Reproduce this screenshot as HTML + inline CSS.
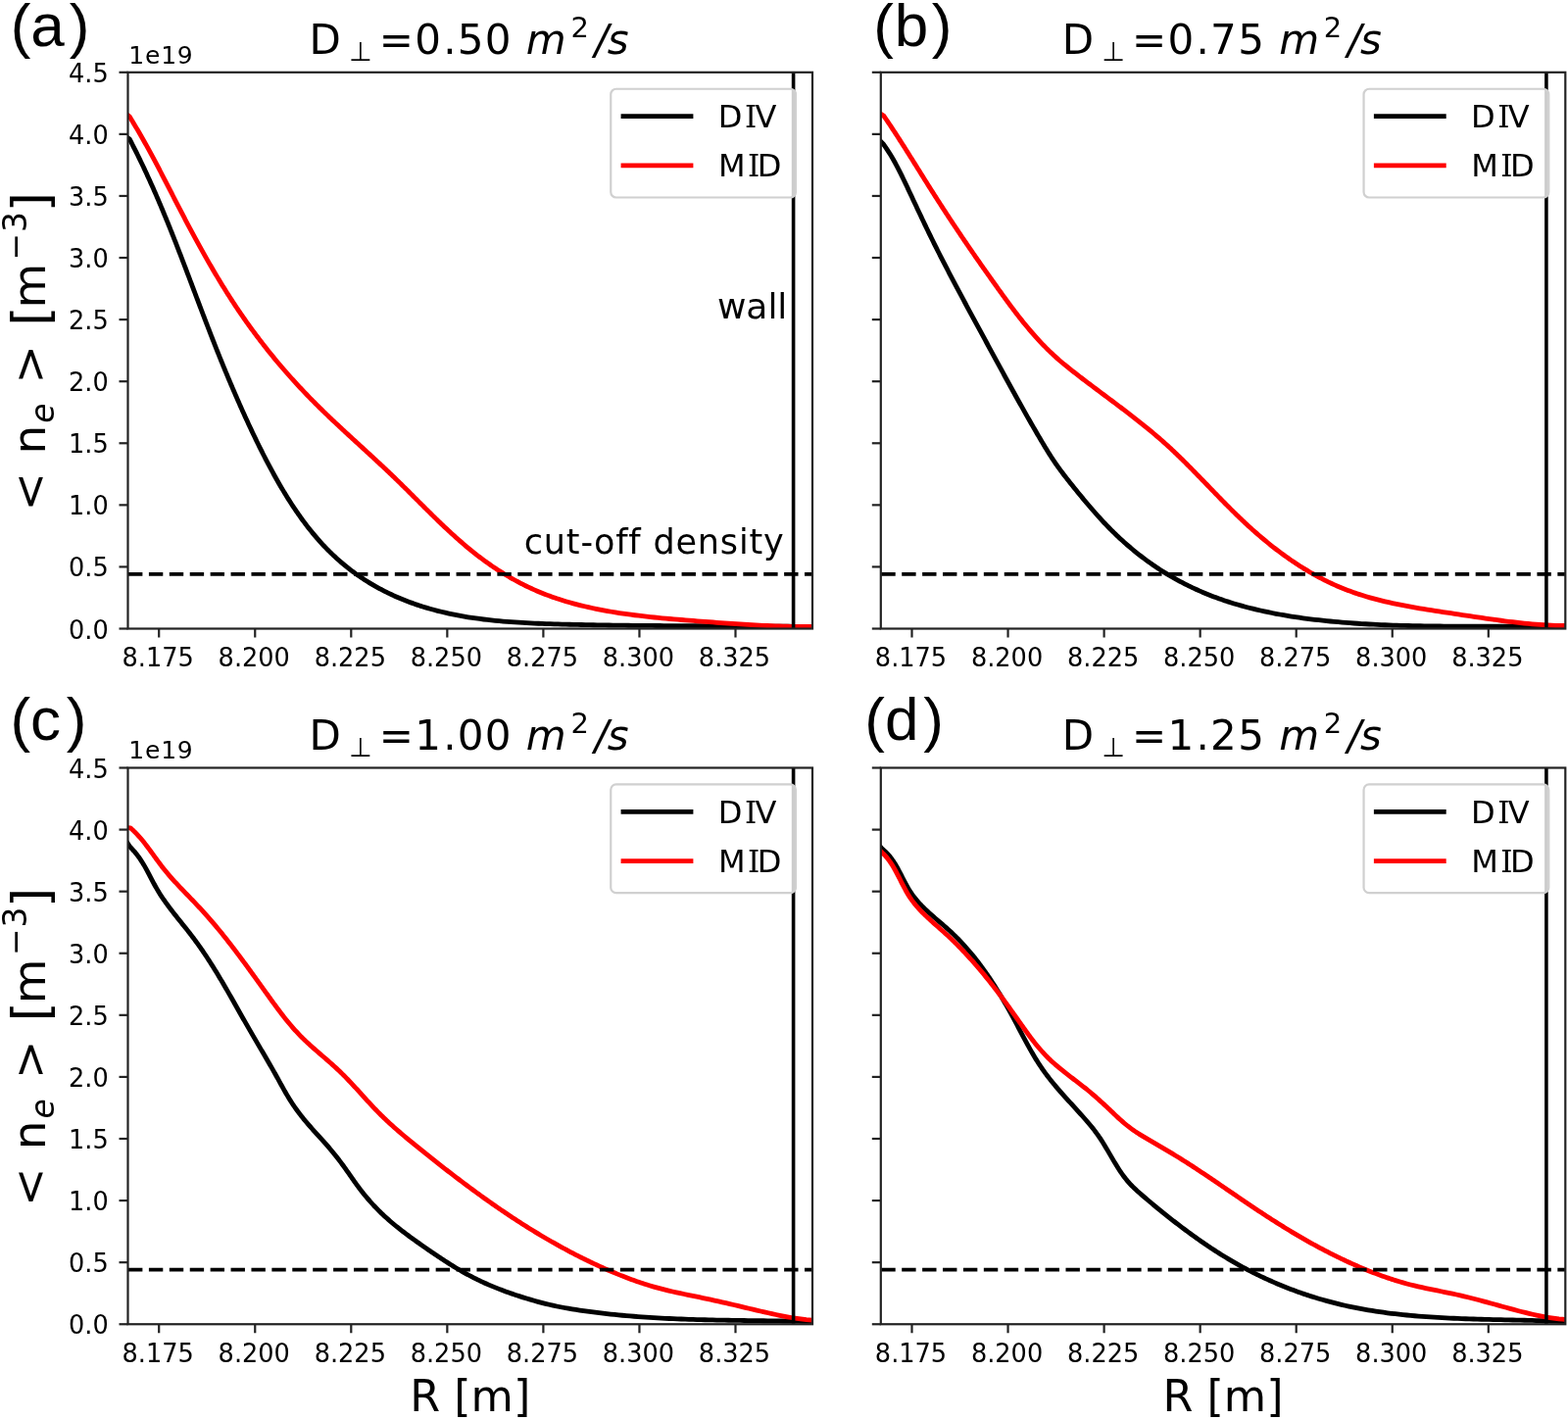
<!DOCTYPE html>
<html><head><meta charset="utf-8"><title>Density profiles</title>
<style>
html,body{margin:0;padding:0;background:#fff;}
svg{display:block;}
text{fill:#000;}
</style></head><body>
<svg width="1600" height="1449" viewBox="0 0 1600 1449">
<rect x="0" y="0" width="1600" height="1449" fill="#fff"/>
<g>
<clipPath id="clipa"><rect x="130.5" y="73.8" width="698.5" height="567.7"/></clipPath>
<g clip-path="url(#clipa)">
<path d="M130.5 140.66 L132.06 141.66 L132.99 143.44 L133.91 145.22 L134.83 147 L135.74 148.79 L136.65 150.57 L137.56 152.36 L138.46 154.15 L139.35 155.94 L140.24 157.73 L141.12 159.53 L142 161.33 L142.88 163.12 L143.74 164.92 L144.61 166.73 L145.47 168.53 L146.33 170.33 L147.18 172.14 L148.03 173.95 L148.87 175.76 L149.71 177.57 L150.54 179.38 L151.37 181.19 L152.2 183.01 L153.02 184.82 L153.84 186.64 L154.66 188.46 L155.47 190.28 L156.28 192.1 L157.08 193.92 L157.88 195.75 L158.68 197.57 L159.47 199.4 L160.26 201.23 L161.05 203.06 L161.83 204.89 L162.61 206.72 L163.39 208.55 L164.17 210.38 L164.94 212.22 L165.71 214.05 L166.47 215.89 L167.23 217.73 L167.99 219.56 L168.75 221.4 L169.51 223.24 L170.26 225.09 L171.01 226.93 L171.76 228.77 L172.5 230.61 L173.24 232.46 L173.99 234.3 L174.72 236.15 L175.46 238 L176.19 239.85 L176.93 241.69 L177.66 243.54 L178.39 245.39 L179.11 247.24 L179.84 249.1 L180.56 250.95 L181.28 252.8 L182 254.65 L182.72 256.51 L183.44 258.36 L184.16 260.22 L184.87 262.07 L185.59 263.93 L186.3 265.78 L187.01 267.64 L187.72 269.5 L188.43 271.36 L189.14 273.21 L189.85 275.07 L190.55 276.93 L191.26 278.79 L191.97 280.65 L192.67 282.51 L193.38 284.37 L194.08 286.23 L194.79 288.09 L195.49 289.95 L196.19 291.81 L196.9 293.67 L197.6 295.53 L198.3 297.39 L199.01 299.25 L199.71 301.12 L200.41 302.98 L201.12 304.84 L201.82 306.7 L202.53 308.56 L203.23 310.42 L203.94 312.28 L204.64 314.14 L205.35 316.01 L206.06 317.87 L206.76 319.73 L207.47 321.59 L208.18 323.45 L208.89 325.31 L209.6 327.17 L210.32 329.03 L211.03 330.89 L211.74 332.75 L212.46 334.61 L213.18 336.46 L213.9 338.32 L214.62 340.18 L215.34 342.04 L216.06 343.9 L216.79 345.75 L217.51 347.61 L218.24 349.46 L218.97 351.32 L219.7 353.17 L220.44 355.03 L221.17 356.88 L221.91 358.74 L222.65 360.59 L223.39 362.44 L224.14 364.29 L224.88 366.14 L225.63 367.99 L226.38 369.84 L227.14 371.69 L227.89 373.54 L228.65 375.39 L229.41 377.23 L230.17 379.08 L230.94 380.92 L231.71 382.77 L232.48 384.61 L233.25 386.45 L234.02 388.29 L234.8 390.13 L235.58 391.97 L236.36 393.81 L237.15 395.65 L237.93 397.48 L238.72 399.32 L239.51 401.15 L240.31 402.98 L241.1 404.82 L241.9 406.65 L242.71 408.48 L243.51 410.3 L244.32 412.13 L245.13 413.96 L245.94 415.78 L246.75 417.61 L247.57 419.43 L248.39 421.25 L249.21 423.07 L250.04 424.89 L250.87 426.7 L251.7 428.52 L252.53 430.33 L253.37 432.14 L254.21 433.95 L255.05 435.76 L255.9 437.57 L256.75 439.38 L257.61 441.18 L258.46 442.99 L259.33 444.79 L260.19 446.59 L261.06 448.39 L261.93 450.18 L262.81 451.98 L263.69 453.77 L264.58 455.56 L265.47 457.35 L266.36 459.14 L267.26 460.93 L268.16 462.71 L269.07 464.49 L269.98 466.27 L270.9 468.05 L271.82 469.83 L272.75 471.6 L273.68 473.38 L274.62 475.15 L275.56 476.92 L276.51 478.68 L277.46 480.45 L278.42 482.21 L279.39 483.97 L280.36 485.72 L281.33 487.48 L282.32 489.23 L283.31 490.97 L284.3 492.71 L285.3 494.45 L286.31 496.19 L287.33 497.92 L288.35 499.64 L289.38 501.36 L290.41 503.08 L291.46 504.79 L292.51 506.49 L293.57 508.19 L294.63 509.89 L295.71 511.58 L296.79 513.26 L297.88 514.94 L298.98 516.61 L300.08 518.27 L301.2 519.93 L302.32 521.58 L303.45 523.22 L304.59 524.86 L305.74 526.49 L306.9 528.11 L308.06 529.73 L309.24 531.33 L310.43 532.93 L311.62 534.52 L312.83 536.1 L314.04 537.67 L315.26 539.23 L316.5 540.79 L317.74 542.33 L319 543.87 L320.26 545.4 L321.54 546.91 L322.82 548.42 L324.12 549.91 L325.43 551.4 L326.74 552.87 L328.07 554.34 L329.41 555.79 L330.77 557.24 L332.13 558.67 L333.5 560.09 L334.89 561.49 L336.29 562.89 L337.7 564.27 L339.12 565.65 L340.56 567.01 L342 568.35 L343.46 569.69 L344.93 571.01 L346.42 572.32 L347.92 573.61 L349.43 574.9 L350.95 576.16 L352.48 577.42 L354.03 578.66 L355.58 579.89 L357.15 581.1 L358.73 582.31 L360.32 583.49 L361.92 584.67 L363.53 585.83 L365.16 586.97 L366.79 588.1 L368.43 589.22 L370.09 590.32 L371.75 591.41 L373.42 592.48 L375.11 593.54 L376.8 594.59 L378.5 595.61 L380.21 596.63 L381.93 597.63 L383.66 598.61 L385.4 599.58 L387.15 600.54 L388.9 601.48 L390.66 602.4 L392.43 603.31 L394.21 604.2 L396 605.08 L397.79 605.95 L399.59 606.79 L401.4 607.62 L403.21 608.44 L405.03 609.24 L406.86 610.03 L408.7 610.8 L410.54 611.56 L412.38 612.3 L414.24 613.03 L416.09 613.75 L417.96 614.45 L419.83 615.13 L421.7 615.81 L423.58 616.46 L425.47 617.11 L427.36 617.74 L429.25 618.36 L431.15 618.96 L434.96 620.13 L438.79 621.25 L442.63 622.31 L446.49 623.32 L450.35 624.29 L454.23 625.21 L458.12 626.07 L462.01 626.9 L465.92 627.68 L469.84 628.41 L473.76 629.1 L477.69 629.76 L481.63 630.37 L485.58 630.95 L489.54 631.49 L493.5 632 L497.46 632.47 L501.44 632.91 L505.42 633.32 L509.4 633.71 L513.39 634.06 L517.38 634.39 L521.38 634.69 L525.38 634.97 L529.38 635.23 L533.38 635.47 L537.39 635.69 L541.4 635.89 L545.41 636.08 L549.42 636.25 L553.43 636.4 L557.45 636.55 L561.46 636.68 L565.47 636.81 L569.48 636.93 L573.49 637.04 L577.49 637.14 L581.5 637.24 L585.5 637.34 L589.5 637.43 L593.5 637.52 L597.5 637.6 L601.5 637.68 L605.5 637.75 L609.49 637.82 L613.48 637.89 L617.48 637.95 L621.47 638.01 L625.46 638.07 L629.45 638.12 L633.43 638.17 L637.42 638.22 L641.41 638.26 L645.39 638.3 L649.38 638.34 L653.36 638.37 L657.35 638.41 L661.33 638.44 L665.32 638.47 L669.3 638.5 L673.28 638.52 L677.27 638.54 L681.25 638.57 L685.23 638.59 L689.21 638.61 L693.2 638.63 L697.18 638.64 L701.16 638.66 L705.15 638.68 L709.13 638.69 L713.12 638.71 L717.1 638.72 L721.09 638.74 L725.07 638.75 L729.06 638.76 L733.05 638.78 L737.04 638.79 L741.03 638.81 L745.02 638.83 L749.01 638.84 L753 638.86 L757 638.88 L760.99 638.9 L764.99 638.92 L768.99 638.94 L772.99 638.97 L776.99 638.99 L780.99 639.02 L785 639.05 L789 639.08 L793.01 639.12 L797.02 639.15 L801.03 639.19 L805.05 639.24 L809.07 639.28 L813.08 639.33 L817.1 639.38 L821.13 639.43 L825.15 639.49 L829 639.29" fill="none" stroke="#000" stroke-width="4.8" stroke-linejoin="round" stroke-linecap="square"/>
<path d="M130.5 117.61 L132.1 118.89 L133.16 120.59 L134.21 122.3 L135.26 124.01 L136.3 125.72 L137.33 127.44 L138.36 129.15 L139.38 130.87 L140.39 132.59 L141.4 134.32 L142.4 136.05 L143.4 137.78 L144.39 139.51 L145.38 141.24 L146.37 142.97 L147.34 144.71 L148.32 146.45 L149.29 148.19 L150.25 149.93 L151.21 151.68 L152.17 153.43 L153.12 155.17 L154.07 156.92 L155.02 158.67 L155.96 160.43 L156.9 162.18 L157.84 163.94 L158.77 165.69 L159.7 167.45 L160.63 169.21 L161.56 170.97 L162.48 172.73 L163.4 174.49 L164.32 176.25 L165.24 178.02 L166.16 179.78 L167.07 181.55 L167.99 183.32 L168.9 185.08 L169.81 186.85 L170.72 188.62 L171.63 190.39 L172.54 192.16 L173.45 193.93 L174.36 195.7 L175.27 197.47 L176.18 199.24 L177.09 201.01 L178 202.78 L178.91 204.55 L179.83 206.32 L180.74 208.09 L181.65 209.86 L182.57 211.63 L183.49 213.4 L184.41 215.17 L185.33 216.94 L186.25 218.71 L187.17 220.48 L188.1 222.24 L189.03 224.01 L189.96 225.78 L190.89 227.55 L191.82 229.31 L192.76 231.08 L193.7 232.84 L194.64 234.6 L195.58 236.36 L196.53 238.13 L197.48 239.89 L198.43 241.64 L199.38 243.4 L200.34 245.16 L201.3 246.91 L202.26 248.67 L203.22 250.42 L204.19 252.17 L205.16 253.92 L206.13 255.67 L207.11 257.41 L208.09 259.16 L209.07 260.9 L210.06 262.64 L211.05 264.38 L212.04 266.12 L213.03 267.85 L214.03 269.58 L215.03 271.31 L216.04 273.04 L217.05 274.77 L218.06 276.49 L219.08 278.21 L220.1 279.93 L221.12 281.65 L222.15 283.37 L223.18 285.08 L224.22 286.79 L225.26 288.49 L226.3 290.2 L227.35 291.9 L228.4 293.6 L229.45 295.29 L230.51 296.99 L231.58 298.67 L232.65 300.36 L233.72 302.04 L234.8 303.72 L235.88 305.4 L236.97 307.08 L238.06 308.75 L239.15 310.41 L240.26 312.08 L241.36 313.74 L242.47 315.39 L243.59 317.05 L244.71 318.69 L245.83 320.34 L246.96 321.98 L248.1 323.62 L249.24 325.25 L250.38 326.88 L251.53 328.51 L252.69 330.13 L253.85 331.75 L255.01 333.37 L256.18 334.98 L257.36 336.59 L258.54 338.19 L259.72 339.79 L260.91 341.39 L262.1 342.98 L263.3 344.57 L264.51 346.15 L265.71 347.73 L266.93 349.31 L268.15 350.88 L269.37 352.45 L270.6 354.02 L271.83 355.58 L273.07 357.14 L274.31 358.69 L275.56 360.24 L276.81 361.78 L278.07 363.33 L279.33 364.86 L280.59 366.4 L281.86 367.93 L283.14 369.46 L284.42 370.98 L285.7 372.5 L286.99 374.01 L288.29 375.52 L289.59 377.03 L290.89 378.53 L292.2 380.03 L293.51 381.52 L294.83 383.01 L296.15 384.5 L297.48 385.98 L298.81 387.46 L300.14 388.94 L301.48 390.41 L302.83 391.87 L304.18 393.34 L305.53 394.79 L306.89 396.25 L308.25 397.7 L309.62 399.15 L310.99 400.59 L312.37 402.03 L313.75 403.46 L315.13 404.89 L316.52 406.32 L317.92 407.74 L319.31 409.16 L320.72 410.57 L322.12 411.98 L323.53 413.39 L324.95 414.79 L326.37 416.19 L327.79 417.58 L329.22 418.98 L330.65 420.36 L332.08 421.75 L333.52 423.13 L334.95 424.51 L336.4 425.89 L337.84 427.27 L339.29 428.64 L340.74 430.01 L342.19 431.38 L343.65 432.74 L345.1 434.11 L346.56 435.47 L348.02 436.83 L349.48 438.19 L350.95 439.55 L352.41 440.91 L353.88 442.26 L355.35 443.61 L356.82 444.97 L358.29 446.32 L359.76 447.67 L361.23 449.02 L362.7 450.37 L364.18 451.72 L365.65 453.07 L367.12 454.42 L368.6 455.77 L370.07 457.12 L371.54 458.47 L373.01 459.82 L374.49 461.17 L375.96 462.52 L377.43 463.88 L378.9 465.23 L380.37 466.58 L381.84 467.94 L383.3 469.29 L384.77 470.65 L386.23 472.01 L387.69 473.37 L389.15 474.74 L390.61 476.1 L392.07 477.47 L393.52 478.83 L394.97 480.2 L396.42 481.58 L397.87 482.95 L399.32 484.33 L400.76 485.71 L402.2 487.1 L403.63 488.48 L405.06 489.87 L406.49 491.26 L407.92 492.66 L409.34 494.05 L410.77 495.45 L412.19 496.85 L413.6 498.26 L415.02 499.66 L416.44 501.07 L417.85 502.47 L419.26 503.88 L420.67 505.29 L422.08 506.7 L423.49 508.11 L424.9 509.51 L426.31 510.92 L427.72 512.33 L429.13 513.74 L430.54 515.15 L431.95 516.55 L433.36 517.96 L434.78 519.36 L436.19 520.76 L437.6 522.16 L439.02 523.56 L440.44 524.96 L441.86 526.35 L443.28 527.74 L444.7 529.13 L446.13 530.52 L447.56 531.9 L448.99 533.28 L450.43 534.66 L451.87 536.03 L453.31 537.4 L454.76 538.76 L456.21 540.12 L457.66 541.47 L459.12 542.82 L460.58 544.17 L462.05 545.51 L463.52 546.84 L465 548.17 L466.48 549.49 L467.96 550.81 L469.46 552.12 L470.96 553.42 L472.46 554.72 L473.97 556.01 L475.49 557.3 L477.01 558.57 L478.54 559.84 L480.08 561.1 L481.62 562.36 L483.18 563.6 L484.73 564.84 L486.3 566.07 L487.88 567.29 L489.46 568.5 L491.05 569.7 L492.65 570.89 L494.26 572.08 L495.87 573.25 L497.49 574.41 L499.13 575.57 L500.77 576.71 L502.41 577.85 L504.07 578.97 L505.73 580.08 L507.4 581.18 L509.08 582.27 L510.76 583.35 L512.46 584.41 L514.16 585.46 L515.86 586.51 L517.58 587.53 L519.3 588.55 L521.03 589.56 L522.76 590.55 L524.5 591.52 L526.25 592.49 L528 593.44 L529.76 594.38 L531.53 595.3 L533.3 596.21 L535.08 597.1 L536.87 597.98 L538.66 598.85 L540.45 599.69 L542.26 600.53 L544.07 601.35 L545.88 602.15 L547.7 602.94 L549.52 603.71 L551.35 604.47 L553.19 605.22 L555.03 605.95 L556.88 606.67 L558.73 607.37 L560.58 608.06 L562.44 608.73 L564.31 609.39 L566.18 610.04 L568.05 610.68 L569.93 611.3 L573.7 612.51 L577.48 613.67 L581.29 614.78 L585.1 615.84 L588.93 616.86 L592.78 617.84 L596.64 618.77 L600.51 619.67 L604.39 620.52 L608.29 621.34 L612.19 622.12 L616.11 622.87 L620.03 623.58 L623.96 624.26 L627.9 624.91 L631.85 625.53 L635.81 626.13 L639.77 626.69 L643.74 627.23 L647.71 627.75 L651.69 628.24 L655.68 628.71 L659.66 629.16 L663.65 629.59 L667.65 630 L671.64 630.4 L675.64 630.78 L679.64 631.15 L683.64 631.51 L687.63 631.85 L691.63 632.19 L695.63 632.51 L699.62 632.83 L703.61 633.15 L707.6 633.46 L711.59 633.77 L715.57 634.07 L719.55 634.37 L723.52 634.68 L727.49 634.98 L731.46 635.27 L735.42 635.56 L739.39 635.85 L743.35 636.13 L747.31 636.4 L751.27 636.67 L755.24 636.93 L759.2 637.18 L763.16 637.43 L767.13 637.66 L771.09 637.88 L775.06 638.09 L779.04 638.29 L783.01 638.48 L786.99 638.65 L790.98 638.81 L794.97 638.96 L798.96 639.09 L802.96 639.2 L806.97 639.3 L810.98 639.38 L815.01 639.44 L819.03 639.48 L823.07 639.51 L829 639.49" fill="none" stroke="#f00" stroke-width="4.8" stroke-linejoin="round" stroke-linecap="square"/>
<line x1="131" y1="585.9" x2="829" y2="585.9" stroke="#000" stroke-width="3.7" stroke-dasharray="14.4 6.51"/>
<line x1="809.6" y1="73.8" x2="809.6" y2="641.5" stroke="#000" stroke-width="3.6"/>
</g>
<rect x="623.25" y="90.75" width="188.75" height="110.75" rx="5.5" ry="5.5" fill="#fff" fill-opacity="0.8" stroke="#d0d0d0" stroke-width="2.2"/>
<line x1="636" y1="118.7" x2="705" y2="118.7" stroke="#000" stroke-width="4.8" stroke-linecap="square"/>
<line x1="636" y1="168.9" x2="705" y2="168.9" stroke="#f00" stroke-width="4.8" stroke-linecap="square"/>
<text x="732.66" y="129.8" font-family="'DejaVu Sans', sans-serif" font-size="32">D</text>
<text x="759.89" y="129.8" font-family="'DejaVu Serif', serif" font-size="31">I</text>
<text x="770.55" y="129.8" font-family="'DejaVu Sans', sans-serif" font-size="32">V</text>
<text x="732.96" y="180" font-family="'DejaVu Sans', sans-serif" font-size="32">M</text>
<text x="762.89" y="180" font-family="'DejaVu Serif', serif" font-size="31">I</text>
<text x="772.66" y="180" font-family="'DejaVu Sans', sans-serif" font-size="32">D</text>
<rect x="130.5" y="73.8" width="698.5" height="567.7" fill="none" stroke="#222" stroke-width="2.2"/>
<line x1="121.5" y1="641.5" x2="130.5" y2="641.5" stroke="#222" stroke-width="2.2"/>
<text transform="translate(0,641.4) scale(1,1.07) translate(0,-641.4)" x="110.7" y="650.9" font-family="'DejaVu Sans', sans-serif" font-size="25.6" text-anchor="end">0.0</text>
<line x1="121.5" y1="578.42" x2="130.5" y2="578.42" stroke="#222" stroke-width="2.2"/>
<text transform="translate(0,578.32) scale(1,1.07) translate(0,-578.32)" x="110.7" y="587.82" font-family="'DejaVu Sans', sans-serif" font-size="25.6" text-anchor="end">0.5</text>
<line x1="121.5" y1="515.34" x2="130.5" y2="515.34" stroke="#222" stroke-width="2.2"/>
<text transform="translate(0,515.24) scale(1,1.07) translate(0,-515.24)" x="110.7" y="524.74" font-family="'DejaVu Sans', sans-serif" font-size="25.6" text-anchor="end">1.0</text>
<line x1="121.5" y1="452.27" x2="130.5" y2="452.27" stroke="#222" stroke-width="2.2"/>
<text transform="translate(0,452.17) scale(1,1.07) translate(0,-452.17)" x="110.7" y="461.67" font-family="'DejaVu Sans', sans-serif" font-size="25.6" text-anchor="end">1.5</text>
<line x1="121.5" y1="389.19" x2="130.5" y2="389.19" stroke="#222" stroke-width="2.2"/>
<text transform="translate(0,389.09) scale(1,1.07) translate(0,-389.09)" x="110.7" y="398.59" font-family="'DejaVu Sans', sans-serif" font-size="25.6" text-anchor="end">2.0</text>
<line x1="121.5" y1="326.11" x2="130.5" y2="326.11" stroke="#222" stroke-width="2.2"/>
<text transform="translate(0,326.01) scale(1,1.07) translate(0,-326.01)" x="110.7" y="335.51" font-family="'DejaVu Sans', sans-serif" font-size="25.6" text-anchor="end">2.5</text>
<line x1="121.5" y1="263.03" x2="130.5" y2="263.03" stroke="#222" stroke-width="2.2"/>
<text transform="translate(0,262.93) scale(1,1.07) translate(0,-262.93)" x="110.7" y="272.43" font-family="'DejaVu Sans', sans-serif" font-size="25.6" text-anchor="end">3.0</text>
<line x1="121.5" y1="199.96" x2="130.5" y2="199.96" stroke="#222" stroke-width="2.2"/>
<text transform="translate(0,199.86) scale(1,1.07) translate(0,-199.86)" x="110.7" y="209.36" font-family="'DejaVu Sans', sans-serif" font-size="25.6" text-anchor="end">3.5</text>
<line x1="121.5" y1="136.88" x2="130.5" y2="136.88" stroke="#222" stroke-width="2.2"/>
<text transform="translate(0,136.78) scale(1,1.07) translate(0,-136.78)" x="110.7" y="146.28" font-family="'DejaVu Sans', sans-serif" font-size="25.6" text-anchor="end">4.0</text>
<line x1="121.5" y1="73.8" x2="130.5" y2="73.8" stroke="#222" stroke-width="2.2"/>
<text transform="translate(0,73.7) scale(1,1.07) translate(0,-73.7)" x="110.7" y="83.2" font-family="'DejaVu Sans', sans-serif" font-size="25.6" text-anchor="end">4.5</text>
<line x1="162.2" y1="641.5" x2="162.2" y2="650.5" stroke="#222" stroke-width="2.2"/>
<text transform="translate(0,669.7) scale(1,1.07) translate(0,-669.7)" x="161.2" y="679.2" font-family="'DejaVu Sans', sans-serif" font-size="25.6" text-anchor="middle">8.175</text>
<line x1="260.25" y1="641.5" x2="260.25" y2="650.5" stroke="#222" stroke-width="2.2"/>
<text transform="translate(0,669.7) scale(1,1.07) translate(0,-669.7)" x="259.25" y="679.2" font-family="'DejaVu Sans', sans-serif" font-size="25.6" text-anchor="middle">8.200</text>
<line x1="358.3" y1="641.5" x2="358.3" y2="650.5" stroke="#222" stroke-width="2.2"/>
<text transform="translate(0,669.7) scale(1,1.07) translate(0,-669.7)" x="357.3" y="679.2" font-family="'DejaVu Sans', sans-serif" font-size="25.6" text-anchor="middle">8.225</text>
<line x1="456.35" y1="641.5" x2="456.35" y2="650.5" stroke="#222" stroke-width="2.2"/>
<text transform="translate(0,669.7) scale(1,1.07) translate(0,-669.7)" x="455.35" y="679.2" font-family="'DejaVu Sans', sans-serif" font-size="25.6" text-anchor="middle">8.250</text>
<line x1="554.4" y1="641.5" x2="554.4" y2="650.5" stroke="#222" stroke-width="2.2"/>
<text transform="translate(0,669.7) scale(1,1.07) translate(0,-669.7)" x="553.4" y="679.2" font-family="'DejaVu Sans', sans-serif" font-size="25.6" text-anchor="middle">8.275</text>
<line x1="652.45" y1="641.5" x2="652.45" y2="650.5" stroke="#222" stroke-width="2.2"/>
<text transform="translate(0,669.7) scale(1,1.07) translate(0,-669.7)" x="651.45" y="679.2" font-family="'DejaVu Sans', sans-serif" font-size="25.6" text-anchor="middle">8.300</text>
<line x1="750.5" y1="641.5" x2="750.5" y2="650.5" stroke="#222" stroke-width="2.2"/>
<text transform="translate(0,669.7) scale(1,1.07) translate(0,-669.7)" x="749.5" y="679.2" font-family="'DejaVu Sans', sans-serif" font-size="25.6" text-anchor="middle">8.325</text>
<text x="315.48" y="55.4" font-family="'DejaVu Sans', sans-serif" font-size="42">D</text>
<text x="356.29" y="62.4" font-family="'DejaVu Sans', sans-serif" font-size="27">⊥</text>
<text x="386.75" y="55.4" font-family="'DejaVu Sans', sans-serif" font-size="42">=</text>
<text x="423.23 452.21 466.66 494.83" y="55.4" font-family="'DejaVu Sans', sans-serif" font-size="42">0.50</text>
<text x="536.87" y="55.4" font-family="'DejaVu Sans', sans-serif" font-size="42" font-style="italic">m</text>
<text x="582.38" y="37.9" font-family="'DejaVu Sans', sans-serif" font-size="29">2</text>
<text x="606.68 619.63" y="55.4" font-family="'DejaVu Sans', sans-serif" font-size="42" font-style="italic">/s</text>
<text x="131.25 147.96 164.14 180.85" y="65" font-family="'DejaVu Sans', sans-serif" font-size="25">1e19</text>
<g transform="rotate(-90)"><text x="-521.38" y="46" font-family="'DejaVu Sans', sans-serif" font-size="47">&lt;</text><text x="-463.47" y="46.3" font-family="'DejaVu Sans', sans-serif" font-size="47">n</text><text x="-431.71" y="54.9" font-family="'DejaVu Sans', sans-serif" font-size="33" font-style="italic">e</text><text x="-391.38" y="46" font-family="'DejaVu Sans', sans-serif" font-size="47">&gt;</text><text x="-332.87" y="49.2" font-family="'DejaVu Sans', sans-serif" font-size="52">[</text><text x="-314.57" y="46.3" font-family="'DejaVu Sans', sans-serif" font-size="47">m</text><text x="-265.4" y="27" font-family="'DejaVu Sans', sans-serif" font-size="33">−</text><text x="-236.91" y="27" font-family="'DejaVu Sans', sans-serif" font-size="33">3</text><text x="-216.25" y="49.2" font-family="'DejaVu Sans', sans-serif" font-size="52">]</text></g>
</g>
<g>
<clipPath id="clipb"><rect x="898.8" y="73.8" width="698.5" height="567.7"/></clipPath>
<g clip-path="url(#clipb)">
<path d="M898.8 144.3 L901.3 147 L902.53 148.71 L903.73 150.42 L904.9 152.14 L906.04 153.87 L907.15 155.59 L908.24 157.33 L909.3 159.06 L910.34 160.8 L911.35 162.54 L912.34 164.29 L913.32 166.04 L914.28 167.8 L915.22 169.55 L916.14 171.31 L917.05 173.08 L917.95 174.84 L918.84 176.61 L919.71 178.38 L920.58 180.16 L921.44 181.93 L922.3 183.71 L923.15 185.49 L923.99 187.28 L924.84 189.06 L925.68 190.85 L926.53 192.64 L927.37 194.43 L928.21 196.22 L929.06 198.01 L929.9 199.81 L930.74 201.6 L931.59 203.4 L932.43 205.2 L933.28 207 L934.12 208.8 L934.97 210.6 L935.82 212.4 L936.66 214.2 L937.51 216 L938.36 217.8 L939.21 219.6 L940.07 221.4 L940.92 223.2 L941.78 225 L942.63 226.8 L943.49 228.6 L944.36 230.4 L945.22 232.2 L946.09 234 L946.96 235.79 L947.83 237.59 L948.7 239.38 L949.58 241.17 L950.46 242.96 L951.34 244.75 L952.22 246.54 L953.11 248.32 L954 250.11 L954.89 251.89 L955.78 253.67 L956.68 255.46 L957.58 257.24 L958.48 259.01 L959.39 260.79 L960.29 262.57 L961.2 264.35 L962.11 266.12 L963.02 267.89 L963.94 269.67 L964.85 271.44 L965.77 273.21 L966.69 274.98 L967.61 276.75 L968.53 278.52 L969.46 280.29 L970.39 282.05 L971.32 283.82 L972.25 285.58 L973.18 287.35 L974.11 289.11 L975.04 290.88 L975.98 292.64 L976.92 294.4 L977.86 296.17 L978.8 297.93 L979.74 299.69 L980.68 301.45 L981.62 303.21 L982.57 304.97 L983.51 306.73 L984.46 308.49 L985.41 310.25 L986.35 312.01 L987.3 313.77 L988.25 315.53 L989.2 317.29 L990.15 319.05 L991.11 320.81 L992.06 322.57 L993.01 324.33 L993.96 326.09 L994.92 327.85 L995.87 329.61 L996.83 331.37 L997.78 333.13 L998.74 334.89 L999.69 336.65 L1000.65 338.41 L1001.6 340.18 L1002.56 341.94 L1003.51 343.7 L1004.47 345.46 L1005.42 347.23 L1006.38 348.99 L1007.34 350.75 L1008.29 352.52 L1009.25 354.28 L1010.2 356.05 L1011.16 357.81 L1012.12 359.57 L1013.07 361.34 L1014.03 363.1 L1014.99 364.86 L1015.94 366.63 L1016.9 368.39 L1017.86 370.15 L1018.82 371.92 L1019.78 373.68 L1020.74 375.44 L1021.7 377.2 L1022.66 378.96 L1023.62 380.72 L1024.58 382.48 L1025.54 384.24 L1026.5 385.99 L1027.46 387.75 L1028.43 389.5 L1029.39 391.26 L1030.35 393.01 L1031.32 394.76 L1032.29 396.52 L1033.25 398.27 L1034.22 400.01 L1035.19 401.76 L1036.15 403.51 L1037.12 405.25 L1038.09 406.99 L1039.07 408.74 L1040.04 410.48 L1041.01 412.21 L1041.98 413.95 L1042.96 415.69 L1043.93 417.42 L1044.91 419.15 L1045.89 420.88 L1046.86 422.61 L1047.84 424.33 L1048.82 426.06 L1049.8 427.78 L1050.79 429.5 L1051.77 431.22 L1052.76 432.93 L1053.74 434.64 L1054.73 436.36 L1055.72 438.06 L1056.71 439.77 L1057.7 441.47 L1058.69 443.17 L1059.68 444.87 L1060.68 446.57 L1061.67 448.26 L1062.67 449.95 L1063.67 451.64 L1064.67 453.32 L1065.68 455 L1066.7 456.68 L1067.72 458.35 L1068.75 460.03 L1069.8 461.69 L1070.85 463.36 L1071.91 465.02 L1072.98 466.68 L1074.07 468.33 L1075.17 469.99 L1076.28 471.63 L1077.41 473.28 L1078.56 474.92 L1079.72 476.55 L1080.9 478.19 L1082.1 479.82 L1083.3 481.44 L1084.52 483.06 L1085.75 484.68 L1086.99 486.29 L1088.24 487.9 L1089.49 489.5 L1090.75 491.1 L1092.02 492.69 L1093.29 494.28 L1094.56 495.87 L1095.84 497.45 L1097.11 499.03 L1098.39 500.6 L1099.67 502.16 L1100.94 503.72 L1102.22 505.28 L1103.5 506.83 L1104.77 508.38 L1106.05 509.92 L1107.34 511.45 L1108.62 512.98 L1109.91 514.5 L1111.2 516.02 L1112.49 517.53 L1113.79 519.04 L1115.09 520.54 L1116.4 522.03 L1117.71 523.52 L1119.02 525 L1120.34 526.48 L1121.67 527.95 L1123.01 529.41 L1124.35 530.87 L1125.7 532.31 L1127.05 533.76 L1128.42 535.19 L1129.79 536.62 L1131.17 538.04 L1132.56 539.46 L1133.96 540.86 L1135.36 542.26 L1136.78 543.66 L1138.21 545.04 L1139.65 546.42 L1141.1 547.79 L1142.55 549.15 L1144.02 550.5 L1145.49 551.85 L1146.98 553.18 L1148.47 554.51 L1149.98 555.83 L1151.49 557.14 L1153.01 558.44 L1154.54 559.73 L1156.07 561.01 L1157.62 562.28 L1159.18 563.54 L1160.74 564.79 L1162.31 566.03 L1163.89 567.26 L1165.48 568.48 L1167.08 569.69 L1168.68 570.89 L1170.29 572.07 L1171.91 573.25 L1173.54 574.41 L1175.18 575.56 L1176.82 576.7 L1178.47 577.83 L1180.13 578.95 L1181.8 580.05 L1183.47 581.15 L1185.15 582.23 L1186.84 583.29 L1188.53 584.35 L1190.23 585.39 L1191.94 586.42 L1193.66 587.44 L1195.38 588.45 L1197.11 589.44 L1198.84 590.42 L1200.58 591.39 L1202.33 592.35 L1204.09 593.29 L1205.85 594.22 L1207.61 595.14 L1209.39 596.05 L1211.17 596.95 L1212.95 597.83 L1214.74 598.7 L1216.54 599.56 L1218.34 600.4 L1220.15 601.24 L1221.96 602.06 L1223.78 602.87 L1225.6 603.66 L1227.43 604.45 L1229.26 605.22 L1231.1 605.98 L1232.95 606.72 L1234.8 607.46 L1236.65 608.18 L1238.51 608.89 L1240.37 609.59 L1242.24 610.27 L1244.11 610.95 L1245.99 611.61 L1247.87 612.26 L1249.75 612.9 L1251.64 613.53 L1253.54 614.14 L1255.43 614.75 L1259.24 615.93 L1263.06 617.06 L1266.9 618.16 L1270.75 619.21 L1274.61 620.22 L1278.48 621.2 L1282.37 622.13 L1286.27 623.03 L1290.18 623.89 L1294.09 624.72 L1298.02 625.51 L1301.96 626.28 L1305.9 627 L1309.85 627.7 L1313.8 628.37 L1317.77 629.01 L1321.73 629.62 L1325.71 630.2 L1329.68 630.76 L1333.66 631.29 L1337.64 631.79 L1341.62 632.28 L1345.61 632.74 L1349.59 633.18 L1353.58 633.6 L1357.56 634 L1361.55 634.38 L1365.53 634.73 L1369.52 635.08 L1373.51 635.4 L1377.49 635.7 L1381.48 635.99 L1385.47 636.26 L1389.46 636.52 L1393.45 636.76 L1397.44 636.98 L1401.43 637.19 L1405.42 637.38 L1409.41 637.57 L1413.4 637.73 L1417.39 637.89 L1421.38 638.03 L1425.37 638.17 L1429.36 638.29 L1433.35 638.4 L1437.35 638.5 L1441.34 638.59 L1445.33 638.67 L1449.33 638.74 L1453.32 638.81 L1457.32 638.86 L1461.31 638.91 L1465.31 638.96 L1469.3 638.99 L1473.3 639.03 L1477.29 639.05 L1481.29 639.08 L1485.29 639.1 L1489.29 639.11 L1493.28 639.12 L1497.28 639.13 L1501.28 639.14 L1505.28 639.15 L1509.28 639.15 L1513.28 639.16 L1517.28 639.16 L1521.28 639.17 L1525.28 639.18 L1529.28 639.18 L1533.28 639.19 L1537.28 639.21 L1541.28 639.22 L1545.28 639.24 L1549.29 639.27 L1553.29 639.3 L1557.29 639.33 L1561.3 639.37 L1565.3 639.42 L1569.3 639.47 L1573.31 639.53 L1577.31 639.6 L1581.32 639.67 L1585.32 639.76 L1589.33 639.85 L1593.34 639.96 L1597.3 639.69" fill="none" stroke="#000" stroke-width="4.8" stroke-linejoin="round" stroke-linecap="square"/>
<path d="M898.8 116.34 L901.91 118.35 L903.06 120.03 L904.2 121.72 L905.34 123.4 L906.47 125.09 L907.6 126.77 L908.72 128.45 L909.84 130.14 L910.95 131.82 L912.05 133.5 L913.16 135.19 L914.26 136.87 L915.35 138.55 L916.44 140.24 L917.53 141.92 L918.61 143.6 L919.69 145.29 L920.76 146.97 L921.84 148.65 L922.91 150.33 L923.98 152.01 L925.04 153.7 L926.1 155.38 L927.16 157.06 L928.22 158.74 L929.28 160.42 L930.33 162.1 L931.39 163.78 L932.44 165.46 L933.49 167.14 L934.54 168.82 L935.59 170.5 L936.64 172.17 L937.69 173.85 L938.74 175.53 L939.78 177.21 L940.83 178.88 L941.88 180.56 L942.93 182.24 L943.98 183.91 L945.03 185.59 L946.08 187.26 L947.13 188.94 L948.19 190.61 L949.24 192.28 L950.3 193.96 L951.36 195.63 L952.42 197.3 L953.48 198.97 L954.55 200.65 L955.61 202.32 L956.68 203.99 L957.76 205.66 L958.83 207.33 L959.91 208.99 L960.99 210.66 L962.07 212.33 L963.15 214 L964.24 215.66 L965.33 217.33 L966.42 218.99 L967.51 220.66 L968.61 222.32 L969.71 223.99 L970.81 225.65 L971.91 227.31 L973.01 228.97 L974.12 230.63 L975.22 232.29 L976.33 233.95 L977.45 235.61 L978.56 237.27 L979.68 238.93 L980.79 240.58 L981.91 242.24 L983.03 243.89 L984.16 245.55 L985.28 247.2 L986.41 248.85 L987.54 250.51 L988.67 252.16 L989.8 253.81 L990.94 255.46 L992.07 257.11 L993.21 258.75 L994.35 260.4 L995.49 262.05 L996.63 263.69 L997.78 265.34 L998.92 266.98 L1000.07 268.62 L1001.22 270.26 L1002.37 271.91 L1003.52 273.55 L1004.67 275.18 L1005.83 276.82 L1006.98 278.46 L1008.14 280.1 L1009.3 281.73 L1010.46 283.37 L1011.62 285 L1012.78 286.63 L1013.95 288.26 L1015.11 289.89 L1016.28 291.52 L1017.45 293.15 L1018.61 294.78 L1019.78 296.4 L1020.96 298.03 L1022.13 299.65 L1023.3 301.28 L1024.48 302.9 L1025.66 304.51 L1026.84 306.13 L1028.03 307.74 L1029.22 309.35 L1030.41 310.96 L1031.61 312.57 L1032.81 314.17 L1034.01 315.77 L1035.22 317.36 L1036.44 318.95 L1037.65 320.54 L1038.88 322.12 L1040.11 323.7 L1041.35 325.27 L1042.59 326.84 L1043.84 328.4 L1045.1 329.96 L1046.37 331.51 L1047.64 333.05 L1048.92 334.59 L1050.21 336.12 L1051.51 337.65 L1052.81 339.17 L1054.13 340.68 L1055.45 342.19 L1056.78 343.68 L1058.13 345.17 L1059.48 346.66 L1060.84 348.13 L1062.21 349.59 L1063.59 351.04 L1064.98 352.48 L1066.38 353.91 L1067.79 355.33 L1069.2 356.74 L1070.62 358.13 L1072.05 359.5 L1073.49 360.86 L1074.94 362.21 L1076.39 363.54 L1077.86 364.85 L1079.32 366.15 L1080.8 367.44 L1082.28 368.71 L1083.77 369.97 L1085.27 371.22 L1086.77 372.46 L1088.28 373.69 L1089.8 374.92 L1091.32 376.14 L1092.84 377.35 L1094.38 378.56 L1095.92 379.76 L1097.46 380.97 L1099.01 382.17 L1100.56 383.37 L1102.12 384.57 L1103.68 385.77 L1105.25 386.97 L1106.82 388.17 L1108.4 389.36 L1109.98 390.56 L1111.56 391.75 L1113.14 392.95 L1114.73 394.14 L1116.32 395.34 L1117.92 396.53 L1119.52 397.73 L1121.11 398.92 L1122.71 400.12 L1124.32 401.32 L1125.92 402.51 L1127.53 403.71 L1129.13 404.91 L1130.74 406.11 L1132.35 407.31 L1133.96 408.52 L1135.56 409.72 L1137.17 410.93 L1138.78 412.13 L1140.39 413.34 L1142 414.56 L1143.6 415.77 L1145.21 416.98 L1146.81 418.2 L1148.42 419.42 L1150.02 420.65 L1151.62 421.87 L1153.21 423.1 L1154.81 424.34 L1156.4 425.57 L1157.99 426.81 L1159.57 428.05 L1161.16 429.3 L1162.74 430.55 L1164.31 431.8 L1165.89 433.06 L1167.45 434.32 L1169.02 435.58 L1170.58 436.85 L1172.13 438.13 L1173.68 439.41 L1175.23 440.69 L1176.77 441.98 L1178.3 443.27 L1179.83 444.57 L1181.35 445.87 L1182.87 447.18 L1184.38 448.49 L1185.88 449.81 L1187.37 451.14 L1188.86 452.47 L1190.34 453.81 L1191.82 455.15 L1193.29 456.5 L1194.75 457.85 L1196.21 459.21 L1197.66 460.57 L1199.1 461.94 L1200.54 463.31 L1201.97 464.69 L1203.4 466.07 L1204.82 467.45 L1206.24 468.84 L1207.66 470.24 L1209.07 471.63 L1210.47 473.03 L1211.88 474.43 L1213.28 475.84 L1214.67 477.25 L1216.07 478.66 L1217.46 480.07 L1218.85 481.48 L1220.23 482.9 L1221.62 484.32 L1223 485.74 L1224.38 487.16 L1225.76 488.58 L1227.14 490.01 L1228.52 491.43 L1229.89 492.86 L1231.27 494.29 L1232.65 495.71 L1234.02 497.14 L1235.4 498.57 L1236.78 499.99 L1238.15 501.42 L1239.53 502.84 L1240.91 504.27 L1242.29 505.69 L1243.68 507.11 L1245.06 508.53 L1246.45 509.95 L1247.84 511.37 L1249.23 512.79 L1250.63 514.2 L1252.03 515.61 L1253.43 517.02 L1254.83 518.43 L1256.24 519.83 L1257.66 521.24 L1259.07 522.63 L1260.49 524.03 L1261.92 525.42 L1263.35 526.81 L1264.79 528.19 L1266.23 529.57 L1267.68 530.94 L1269.13 532.32 L1270.59 533.68 L1272.06 535.04 L1273.53 536.4 L1275.01 537.75 L1276.49 539.1 L1277.99 540.44 L1279.48 541.77 L1280.99 543.1 L1282.5 544.42 L1284.02 545.74 L1285.55 547.05 L1287.08 548.35 L1288.62 549.65 L1290.16 550.94 L1291.71 552.22 L1293.27 553.49 L1294.83 554.76 L1296.41 556.02 L1297.98 557.27 L1299.57 558.52 L1301.16 559.75 L1302.75 560.98 L1304.36 562.2 L1305.97 563.4 L1307.58 564.6 L1309.2 565.8 L1310.83 566.98 L1312.47 568.15 L1314.11 569.31 L1315.75 570.46 L1317.41 571.61 L1319.07 572.74 L1320.73 573.86 L1322.41 574.97 L1324.08 576.07 L1325.77 577.16 L1327.46 578.24 L1329.15 579.3 L1330.86 580.36 L1332.57 581.4 L1334.28 582.43 L1336 583.45 L1337.73 584.46 L1339.46 585.45 L1341.2 586.43 L1342.95 587.4 L1344.7 588.36 L1346.45 589.3 L1348.22 590.23 L1349.99 591.14 L1351.76 592.05 L1353.54 592.93 L1355.33 593.81 L1357.12 594.67 L1358.92 595.51 L1360.72 596.34 L1362.53 597.15 L1364.35 597.95 L1366.17 598.74 L1368 599.51 L1369.83 600.26 L1371.67 601 L1373.51 601.72 L1375.36 602.43 L1377.22 603.12 L1379.08 603.8 L1380.95 604.46 L1382.82 605.11 L1384.69 605.75 L1386.57 606.37 L1390.35 607.58 L1394.14 608.73 L1397.95 609.84 L1401.78 610.9 L1405.62 611.91 L1409.48 612.88 L1413.35 613.82 L1417.23 614.71 L1421.12 615.58 L1425.03 616.4 L1428.94 617.2 L1432.87 617.97 L1436.8 618.71 L1440.74 619.43 L1444.69 620.12 L1448.64 620.8 L1452.6 621.45 L1456.56 622.09 L1460.52 622.72 L1464.49 623.34 L1468.46 623.95 L1472.43 624.55 L1476.4 625.14 L1480.36 625.74 L1484.33 626.33 L1488.29 626.93 L1492.25 627.52 L1496.2 628.12 L1500.15 628.72 L1504.1 629.31 L1508.05 629.9 L1512 630.48 L1515.95 631.06 L1519.89 631.62 L1523.84 632.18 L1527.78 632.72 L1531.73 633.25 L1535.68 633.76 L1539.63 634.26 L1543.58 634.74 L1547.53 635.2 L1551.49 635.63 L1555.45 636.04 L1559.41 636.43 L1563.37 636.79 L1567.34 637.12 L1571.32 637.42 L1575.3 637.69 L1579.28 637.93 L1583.27 638.13 L1587.27 638.3 L1591.27 638.42 L1597.3 638.46" fill="none" stroke="#f00" stroke-width="4.8" stroke-linejoin="round" stroke-linecap="square"/>
<line x1="899.3" y1="585.9" x2="1597.3" y2="585.9" stroke="#000" stroke-width="3.7" stroke-dasharray="14.4 6.51"/>
<line x1="1577.9" y1="73.8" x2="1577.9" y2="641.5" stroke="#000" stroke-width="3.6"/>
</g>
<rect x="1391.55" y="90.75" width="188.75" height="110.75" rx="5.5" ry="5.5" fill="#fff" fill-opacity="0.8" stroke="#d0d0d0" stroke-width="2.2"/>
<line x1="1404.3" y1="118.7" x2="1473.3" y2="118.7" stroke="#000" stroke-width="4.8" stroke-linecap="square"/>
<line x1="1404.3" y1="168.9" x2="1473.3" y2="168.9" stroke="#f00" stroke-width="4.8" stroke-linecap="square"/>
<text x="1500.96" y="129.8" font-family="'DejaVu Sans', sans-serif" font-size="32">D</text>
<text x="1528.19" y="129.8" font-family="'DejaVu Serif', serif" font-size="31">I</text>
<text x="1538.85" y="129.8" font-family="'DejaVu Sans', sans-serif" font-size="32">V</text>
<text x="1501.26" y="180" font-family="'DejaVu Sans', sans-serif" font-size="32">M</text>
<text x="1531.19" y="180" font-family="'DejaVu Serif', serif" font-size="31">I</text>
<text x="1540.96" y="180" font-family="'DejaVu Sans', sans-serif" font-size="32">D</text>
<rect x="898.8" y="73.8" width="698.5" height="567.7" fill="none" stroke="#222" stroke-width="2.2"/>
<line x1="889.8" y1="641.5" x2="898.8" y2="641.5" stroke="#222" stroke-width="2.2"/>
<line x1="889.8" y1="578.42" x2="898.8" y2="578.42" stroke="#222" stroke-width="2.2"/>
<line x1="889.8" y1="515.34" x2="898.8" y2="515.34" stroke="#222" stroke-width="2.2"/>
<line x1="889.8" y1="452.27" x2="898.8" y2="452.27" stroke="#222" stroke-width="2.2"/>
<line x1="889.8" y1="389.19" x2="898.8" y2="389.19" stroke="#222" stroke-width="2.2"/>
<line x1="889.8" y1="326.11" x2="898.8" y2="326.11" stroke="#222" stroke-width="2.2"/>
<line x1="889.8" y1="263.03" x2="898.8" y2="263.03" stroke="#222" stroke-width="2.2"/>
<line x1="889.8" y1="199.96" x2="898.8" y2="199.96" stroke="#222" stroke-width="2.2"/>
<line x1="889.8" y1="136.88" x2="898.8" y2="136.88" stroke="#222" stroke-width="2.2"/>
<line x1="889.8" y1="73.8" x2="898.8" y2="73.8" stroke="#222" stroke-width="2.2"/>
<line x1="930.5" y1="641.5" x2="930.5" y2="650.5" stroke="#222" stroke-width="2.2"/>
<text transform="translate(0,669.7) scale(1,1.07) translate(0,-669.7)" x="929.5" y="679.2" font-family="'DejaVu Sans', sans-serif" font-size="25.6" text-anchor="middle">8.175</text>
<line x1="1028.55" y1="641.5" x2="1028.55" y2="650.5" stroke="#222" stroke-width="2.2"/>
<text transform="translate(0,669.7) scale(1,1.07) translate(0,-669.7)" x="1027.55" y="679.2" font-family="'DejaVu Sans', sans-serif" font-size="25.6" text-anchor="middle">8.200</text>
<line x1="1126.6" y1="641.5" x2="1126.6" y2="650.5" stroke="#222" stroke-width="2.2"/>
<text transform="translate(0,669.7) scale(1,1.07) translate(0,-669.7)" x="1125.6" y="679.2" font-family="'DejaVu Sans', sans-serif" font-size="25.6" text-anchor="middle">8.225</text>
<line x1="1224.65" y1="641.5" x2="1224.65" y2="650.5" stroke="#222" stroke-width="2.2"/>
<text transform="translate(0,669.7) scale(1,1.07) translate(0,-669.7)" x="1223.65" y="679.2" font-family="'DejaVu Sans', sans-serif" font-size="25.6" text-anchor="middle">8.250</text>
<line x1="1322.7" y1="641.5" x2="1322.7" y2="650.5" stroke="#222" stroke-width="2.2"/>
<text transform="translate(0,669.7) scale(1,1.07) translate(0,-669.7)" x="1321.7" y="679.2" font-family="'DejaVu Sans', sans-serif" font-size="25.6" text-anchor="middle">8.275</text>
<line x1="1420.75" y1="641.5" x2="1420.75" y2="650.5" stroke="#222" stroke-width="2.2"/>
<text transform="translate(0,669.7) scale(1,1.07) translate(0,-669.7)" x="1419.75" y="679.2" font-family="'DejaVu Sans', sans-serif" font-size="25.6" text-anchor="middle">8.300</text>
<line x1="1518.8" y1="641.5" x2="1518.8" y2="650.5" stroke="#222" stroke-width="2.2"/>
<text transform="translate(0,669.7) scale(1,1.07) translate(0,-669.7)" x="1517.8" y="679.2" font-family="'DejaVu Sans', sans-serif" font-size="25.6" text-anchor="middle">8.325</text>
<text x="1083.78" y="55.4" font-family="'DejaVu Sans', sans-serif" font-size="42">D</text>
<text x="1124.59" y="62.4" font-family="'DejaVu Sans', sans-serif" font-size="27">⊥</text>
<text x="1155.05" y="55.4" font-family="'DejaVu Sans', sans-serif" font-size="42">=</text>
<text x="1191.53 1220.51 1234.96 1263.13" y="55.4" font-family="'DejaVu Sans', sans-serif" font-size="42">0.75</text>
<text x="1305.17" y="55.4" font-family="'DejaVu Sans', sans-serif" font-size="42" font-style="italic">m</text>
<text x="1350.68" y="37.9" font-family="'DejaVu Sans', sans-serif" font-size="29">2</text>
<text x="1374.98 1387.93" y="55.4" font-family="'DejaVu Sans', sans-serif" font-size="42" font-style="italic">/s</text>
</g>
<g>
<clipPath id="clipc"><rect x="130.5" y="783.5" width="698.5" height="567.75"/></clipPath>
<g clip-path="url(#clipc)">
<path d="M130.5 860.88 L132.55 864.02 L134.04 865.51 L135.47 867.03 L136.85 868.57 L138.18 870.14 L139.46 871.73 L140.69 873.35 L141.88 874.98 L143.02 876.63 L144.13 878.3 L145.21 879.99 L146.25 881.68 L147.27 883.39 L148.26 885.11 L149.22 886.84 L150.17 888.58 L151.1 890.32 L152.03 892.06 L152.94 893.81 L153.85 895.55 L154.76 897.3 L155.67 899.04 L156.59 900.77 L157.51 902.5 L158.46 904.23 L159.42 905.94 L160.4 907.64 L161.4 909.33 L162.43 911 L163.48 912.67 L164.56 914.32 L165.65 915.96 L166.76 917.59 L167.89 919.22 L169.03 920.83 L170.19 922.44 L171.37 924.04 L172.56 925.63 L173.76 927.21 L174.97 928.79 L176.19 930.37 L177.42 931.94 L178.65 933.51 L179.89 935.08 L181.14 936.64 L182.39 938.2 L183.64 939.76 L184.9 941.32 L186.15 942.88 L187.4 944.44 L188.65 946 L189.9 947.57 L191.14 949.13 L192.38 950.7 L193.61 952.28 L194.83 953.86 L196.04 955.44 L197.24 957.03 L198.44 958.63 L199.62 960.23 L200.79 961.84 L201.95 963.45 L203.11 965.07 L204.25 966.69 L205.39 968.32 L206.51 969.96 L207.63 971.6 L208.74 973.24 L209.85 974.89 L210.94 976.54 L212.03 978.2 L213.11 979.86 L214.19 981.53 L215.25 983.2 L216.31 984.87 L217.37 986.55 L218.42 988.23 L219.46 989.92 L220.5 991.61 L221.54 993.3 L222.57 995 L223.59 996.7 L224.61 998.4 L225.63 1000.11 L226.64 1001.82 L227.65 1003.53 L228.65 1005.24 L229.65 1006.96 L230.65 1008.68 L231.65 1010.4 L232.64 1012.13 L233.64 1013.85 L234.63 1015.58 L235.62 1017.31 L236.6 1019.05 L237.59 1020.78 L238.58 1022.52 L239.56 1024.25 L240.55 1025.99 L241.53 1027.73 L242.51 1029.47 L243.5 1031.22 L244.48 1032.96 L245.47 1034.7 L246.46 1036.45 L247.45 1038.2 L248.44 1039.94 L249.43 1041.69 L250.42 1043.43 L251.42 1045.18 L252.42 1046.93 L253.42 1048.67 L254.43 1050.42 L255.44 1052.17 L256.45 1053.91 L257.46 1055.66 L258.48 1057.41 L259.5 1059.15 L260.52 1060.89 L261.54 1062.64 L262.56 1064.38 L263.58 1066.12 L264.6 1067.86 L265.62 1069.6 L266.64 1071.34 L267.66 1073.08 L268.68 1074.82 L269.7 1076.55 L270.71 1078.29 L271.72 1080.02 L272.73 1081.75 L273.73 1083.48 L274.73 1085.21 L275.73 1086.94 L276.72 1088.66 L277.71 1090.39 L278.69 1092.11 L279.66 1093.83 L280.63 1095.55 L281.59 1097.26 L282.55 1098.98 L283.5 1100.69 L284.44 1102.4 L285.38 1104.1 L286.32 1105.81 L287.26 1107.51 L288.2 1109.21 L289.14 1110.9 L290.1 1112.59 L291.06 1114.28 L292.03 1115.96 L293.01 1117.64 L294.01 1119.31 L295.02 1120.98 L296.06 1122.64 L297.11 1124.3 L298.19 1125.96 L299.29 1127.6 L300.41 1129.25 L301.56 1130.88 L302.73 1132.51 L303.92 1134.13 L305.14 1135.75 L306.37 1137.36 L307.62 1138.96 L308.89 1140.55 L310.17 1142.14 L311.48 1143.72 L312.79 1145.29 L314.13 1146.85 L315.47 1148.4 L316.82 1149.95 L318.19 1151.49 L319.56 1153.03 L320.93 1154.55 L322.31 1156.08 L323.69 1157.6 L325.07 1159.11 L326.44 1160.63 L327.81 1162.14 L329.17 1163.64 L330.53 1165.15 L331.87 1166.66 L333.2 1168.16 L334.51 1169.67 L335.81 1171.17 L337.09 1172.68 L338.36 1174.19 L339.61 1175.71 L340.84 1177.22 L342.07 1178.74 L343.27 1180.27 L344.47 1181.8 L345.66 1183.33 L346.83 1184.88 L348 1186.42 L349.15 1187.98 L350.3 1189.54 L351.44 1191.12 L352.57 1192.7 L353.7 1194.29 L354.82 1195.88 L355.94 1197.49 L357.06 1199.1 L358.19 1200.71 L359.32 1202.33 L360.45 1203.94 L361.6 1205.56 L362.75 1207.18 L363.92 1208.8 L365.1 1210.41 L366.29 1212.03 L367.51 1213.63 L368.75 1215.24 L370 1216.83 L371.28 1218.42 L372.57 1220 L373.88 1221.57 L375.2 1223.14 L376.54 1224.68 L377.9 1226.22 L379.27 1227.74 L380.65 1229.25 L382.04 1230.74 L383.44 1232.22 L384.86 1233.67 L386.28 1235.11 L387.71 1236.53 L389.15 1237.93 L390.59 1239.31 L392.04 1240.67 L393.5 1242.01 L394.97 1243.34 L396.45 1244.65 L397.93 1245.94 L399.42 1247.22 L400.91 1248.49 L402.42 1249.74 L403.93 1250.98 L405.45 1252.21 L406.97 1253.43 L408.5 1254.64 L410.04 1255.83 L411.59 1257.02 L413.14 1258.2 L414.7 1259.38 L416.27 1260.54 L417.84 1261.7 L419.42 1262.86 L421 1264.01 L422.6 1265.15 L424.19 1266.3 L425.8 1267.44 L427.41 1268.58 L429.03 1269.71 L430.65 1270.85 L432.28 1271.99 L433.92 1273.13 L435.56 1274.27 L437.21 1275.41 L438.86 1276.55 L440.52 1277.69 L442.19 1278.83 L443.86 1279.96 L445.54 1281.09 L447.22 1282.22 L448.91 1283.35 L450.6 1284.47 L452.3 1285.58 L454.01 1286.69 L455.72 1287.79 L457.43 1288.89 L459.15 1289.97 L460.88 1291.05 L462.61 1292.12 L464.35 1293.18 L466.09 1294.23 L467.84 1295.27 L469.59 1296.3 L471.34 1297.32 L473.11 1298.32 L474.87 1299.31 L476.64 1300.29 L478.42 1301.25 L480.2 1302.19 L481.99 1303.12 L483.78 1304.04 L485.57 1304.94 L487.37 1305.82 L489.17 1306.69 L490.98 1307.55 L492.79 1308.39 L494.61 1309.22 L496.43 1310.03 L498.25 1310.83 L500.08 1311.62 L501.91 1312.39 L503.75 1313.15 L505.59 1313.9 L507.44 1314.64 L509.28 1315.36 L511.14 1316.08 L512.99 1316.78 L514.85 1317.47 L516.71 1318.15 L518.58 1318.82 L520.45 1319.49 L522.32 1320.14 L524.2 1320.78 L526.08 1321.41 L527.96 1322.03 L529.85 1322.65 L533.63 1323.86 L537.43 1325.03 L541.24 1326.17 L545.05 1327.28 L548.88 1328.35 L552.72 1329.38 L556.57 1330.36 L560.43 1331.29 L564.3 1332.17 L568.18 1333 L572.07 1333.77 L575.96 1334.51 L579.87 1335.2 L583.78 1335.85 L587.69 1336.48 L591.62 1337.07 L595.55 1337.65 L599.48 1338.2 L603.42 1338.73 L607.37 1339.24 L611.32 1339.73 L615.27 1340.2 L619.23 1340.65 L623.2 1341.07 L627.17 1341.48 L631.14 1341.87 L635.12 1342.25 L639.1 1342.6 L643.09 1342.94 L647.08 1343.26 L651.07 1343.57 L655.06 1343.86 L659.06 1344.13 L663.06 1344.39 L667.06 1344.64 L671.07 1344.87 L675.07 1345.09 L679.08 1345.3 L683.09 1345.49 L687.1 1345.67 L691.11 1345.84 L695.13 1346.01 L699.14 1346.16 L703.15 1346.3 L707.17 1346.43 L711.18 1346.55 L715.19 1346.66 L719.21 1346.77 L723.22 1346.87 L727.23 1346.96 L731.24 1347.04 L735.25 1347.12 L739.26 1347.2 L743.27 1347.27 L747.28 1347.33 L751.28 1347.39 L755.28 1347.45 L759.28 1347.5 L763.28 1347.56 L767.27 1347.61 L771.26 1347.65 L775.25 1347.7 L779.23 1347.75 L783.21 1347.79 L787.19 1347.84 L791.16 1347.89 L795.13 1347.94 L799.09 1347.99 L803.05 1348.04 L807 1348.1 L810.95 1348.16 L814.89 1348.22 L818.83 1348.29 L822.76 1348.36 L829 1348.42" fill="none" stroke="#000" stroke-width="4.8" stroke-linejoin="round" stroke-linecap="square"/>
<path d="M130.5 844.74 L133.13 844.89 L134.64 846.23 L136.12 847.59 L137.55 848.99 L138.95 850.4 L140.31 851.84 L141.65 853.3 L142.96 854.79 L144.24 856.29 L145.5 857.8 L146.73 859.33 L147.95 860.88 L149.16 862.44 L150.35 864.01 L151.53 865.59 L152.7 867.17 L153.87 868.76 L155.03 870.36 L156.19 871.96 L157.35 873.56 L158.51 875.16 L159.67 876.76 L160.84 878.35 L162.02 879.94 L163.2 881.53 L164.4 883.1 L165.61 884.67 L166.83 886.23 L168.07 887.77 L169.32 889.31 L170.59 890.83 L171.87 892.34 L173.16 893.84 L174.47 895.33 L175.79 896.81 L177.11 898.29 L178.45 899.76 L179.8 901.22 L181.15 902.68 L182.51 904.13 L183.88 905.57 L185.25 907.02 L186.63 908.46 L188.01 909.89 L189.39 911.33 L190.77 912.76 L192.16 914.2 L193.55 915.63 L194.93 917.07 L196.32 918.5 L197.7 919.94 L199.08 921.38 L200.45 922.83 L201.82 924.28 L203.19 925.73 L204.55 927.19 L205.9 928.66 L207.25 930.13 L208.58 931.61 L209.91 933.09 L211.24 934.58 L212.56 936.08 L213.87 937.58 L215.17 939.08 L216.47 940.59 L217.77 942.11 L219.05 943.63 L220.34 945.16 L221.61 946.69 L222.88 948.23 L224.15 949.77 L225.41 951.31 L226.66 952.86 L227.91 954.42 L229.16 955.97 L230.4 957.54 L231.63 959.1 L232.87 960.67 L234.09 962.24 L235.32 963.82 L236.54 965.4 L237.75 966.98 L238.96 968.56 L240.17 970.15 L241.38 971.74 L242.58 973.34 L243.77 974.93 L244.97 976.53 L246.16 978.13 L247.35 979.73 L248.54 981.34 L249.72 982.94 L250.91 984.55 L252.09 986.16 L253.26 987.77 L254.44 989.39 L255.61 991 L256.79 992.61 L257.96 994.23 L259.13 995.85 L260.29 997.46 L261.46 999.08 L262.63 1000.7 L263.79 1002.32 L264.96 1003.94 L266.12 1005.56 L267.28 1007.18 L268.45 1008.8 L269.61 1010.42 L270.77 1012.03 L271.94 1013.65 L273.1 1015.27 L274.26 1016.88 L275.43 1018.5 L276.59 1020.11 L277.76 1021.72 L278.93 1023.33 L280.11 1024.94 L281.28 1026.54 L282.47 1028.14 L283.65 1029.73 L284.85 1031.32 L286.04 1032.9 L287.25 1034.48 L288.46 1036.05 L289.68 1037.61 L290.91 1039.17 L292.15 1040.71 L293.4 1042.25 L294.66 1043.78 L295.93 1045.3 L297.21 1046.81 L298.51 1048.31 L299.81 1049.8 L301.13 1051.28 L302.47 1052.74 L303.82 1054.2 L305.18 1055.64 L306.56 1057.07 L307.96 1058.48 L309.37 1059.88 L310.8 1061.26 L312.24 1062.64 L313.7 1064 L315.17 1065.35 L316.64 1066.69 L318.13 1068.03 L319.63 1069.35 L321.13 1070.67 L322.64 1071.98 L324.15 1073.29 L325.66 1074.6 L327.17 1075.9 L328.68 1077.21 L330.2 1078.51 L331.7 1079.81 L333.21 1081.12 L334.71 1082.42 L336.2 1083.73 L337.69 1085.05 L339.17 1086.37 L340.65 1087.7 L342.12 1089.04 L343.57 1090.38 L345.02 1091.74 L346.46 1093.1 L347.89 1094.48 L349.31 1095.87 L350.71 1097.27 L352.11 1098.68 L353.5 1100.1 L354.88 1101.53 L356.26 1102.97 L357.63 1104.42 L358.99 1105.87 L360.34 1107.32 L361.7 1108.79 L363.04 1110.25 L364.39 1111.72 L365.73 1113.2 L367.07 1114.67 L368.42 1116.15 L369.76 1117.62 L371.1 1119.1 L372.44 1120.58 L373.78 1122.05 L375.13 1123.52 L376.48 1124.99 L377.83 1126.45 L379.19 1127.91 L380.55 1129.36 L381.92 1130.81 L383.3 1132.25 L384.68 1133.69 L386.07 1135.11 L387.48 1136.52 L388.89 1137.93 L390.31 1139.32 L391.73 1140.71 L393.17 1142.08 L394.62 1143.45 L396.07 1144.81 L397.54 1146.16 L399.01 1147.5 L400.49 1148.83 L401.97 1150.16 L403.46 1151.48 L404.96 1152.79 L406.46 1154.1 L407.97 1155.4 L409.49 1156.7 L411.01 1157.99 L412.53 1159.27 L414.06 1160.55 L415.59 1161.83 L417.13 1163.1 L418.67 1164.37 L420.21 1165.63 L421.76 1166.9 L423.31 1168.16 L424.86 1169.42 L426.41 1170.67 L427.96 1171.93 L429.51 1173.18 L431.07 1174.44 L432.63 1175.69 L434.18 1176.94 L435.74 1178.19 L437.31 1179.43 L438.87 1180.68 L440.43 1181.92 L442 1183.16 L443.56 1184.4 L445.13 1185.64 L446.7 1186.88 L448.27 1188.12 L449.84 1189.35 L451.42 1190.58 L452.99 1191.81 L454.57 1193.04 L456.15 1194.26 L457.73 1195.48 L459.31 1196.71 L460.9 1197.92 L462.48 1199.14 L464.07 1200.36 L465.66 1201.57 L467.25 1202.78 L468.84 1203.98 L470.43 1205.19 L472.03 1206.39 L473.63 1207.59 L475.23 1208.79 L476.83 1209.98 L478.43 1211.17 L480.04 1212.36 L481.65 1213.55 L483.26 1214.73 L484.87 1215.91 L486.48 1217.09 L488.1 1218.26 L489.71 1219.43 L491.33 1220.6 L492.96 1221.76 L494.58 1222.93 L496.21 1224.08 L497.83 1225.24 L499.46 1226.39 L501.1 1227.54 L502.73 1228.68 L504.37 1229.82 L506.01 1230.96 L507.65 1232.1 L509.29 1233.23 L510.94 1234.36 L512.59 1235.48 L514.24 1236.6 L515.89 1237.71 L517.55 1238.83 L519.21 1239.93 L520.87 1241.04 L522.53 1242.14 L524.2 1243.23 L525.86 1244.33 L527.53 1245.42 L529.21 1246.5 L530.88 1247.58 L532.56 1248.65 L534.24 1249.72 L535.93 1250.79 L537.61 1251.85 L539.3 1252.91 L541 1253.97 L542.69 1255.01 L544.39 1256.06 L546.09 1257.1 L547.79 1258.13 L549.5 1259.16 L551.21 1260.19 L552.92 1261.21 L554.63 1262.22 L556.35 1263.24 L558.07 1264.24 L559.79 1265.24 L561.52 1266.24 L563.25 1267.23 L564.98 1268.21 L566.72 1269.19 L568.45 1270.17 L570.19 1271.14 L571.94 1272.1 L573.69 1273.06 L575.44 1274.02 L577.19 1274.96 L578.95 1275.91 L580.71 1276.84 L582.47 1277.78 L584.24 1278.7 L586.01 1279.62 L587.78 1280.54 L589.56 1281.44 L591.34 1282.35 L593.12 1283.24 L594.91 1284.14 L596.7 1285.02 L598.49 1285.9 L600.29 1286.77 L602.09 1287.64 L603.89 1288.5 L605.7 1289.35 L607.51 1290.2 L609.33 1291.04 L611.15 1291.88 L612.97 1292.71 L614.79 1293.53 L616.62 1294.35 L618.45 1295.15 L620.29 1295.96 L622.13 1296.75 L623.97 1297.54 L625.82 1298.32 L627.67 1299.09 L629.52 1299.85 L631.38 1300.61 L633.24 1301.36 L635.1 1302.09 L636.96 1302.82 L638.83 1303.54 L640.7 1304.25 L642.58 1304.95 L644.45 1305.65 L646.33 1306.33 L648.22 1307 L650.1 1307.66 L651.99 1308.31 L653.88 1308.94 L655.77 1309.57 L657.67 1310.19 L659.57 1310.79 L663.37 1311.96 L667.19 1313.08 L671.01 1314.15 L674.84 1315.17 L678.68 1316.15 L682.52 1317.08 L686.38 1317.98 L690.24 1318.84 L694.11 1319.69 L697.98 1320.51 L701.86 1321.32 L705.74 1322.12 L709.63 1322.92 L713.53 1323.72 L717.42 1324.53 L721.33 1325.36 L725.23 1326.2 L729.14 1327.06 L733.05 1327.93 L736.97 1328.81 L740.88 1329.71 L744.8 1330.62 L748.71 1331.53 L752.63 1332.45 L756.55 1333.37 L760.47 1334.29 L764.39 1335.22 L768.3 1336.14 L772.22 1337.06 L776.13 1337.97 L780.05 1338.87 L783.96 1339.77 L787.86 1340.64 L791.76 1341.48 L795.66 1342.3 L799.56 1343.08 L803.45 1343.81 L807.34 1344.5 L811.22 1345.14 L815.09 1345.71 L818.96 1346.22 L822.82 1346.65 L829 1347.1" fill="none" stroke="#f00" stroke-width="4.8" stroke-linejoin="round" stroke-linecap="square"/>
<line x1="131" y1="1295.6" x2="829" y2="1295.6" stroke="#000" stroke-width="3.7" stroke-dasharray="14.4 6.51"/>
<line x1="809.6" y1="783.5" x2="809.6" y2="1351.25" stroke="#000" stroke-width="3.6"/>
</g>
<rect x="623.25" y="800.45" width="188.75" height="110.75" rx="5.5" ry="5.5" fill="#fff" fill-opacity="0.8" stroke="#d0d0d0" stroke-width="2.2"/>
<line x1="636" y1="828.4" x2="705" y2="828.4" stroke="#000" stroke-width="4.8" stroke-linecap="square"/>
<line x1="636" y1="878.6" x2="705" y2="878.6" stroke="#f00" stroke-width="4.8" stroke-linecap="square"/>
<text x="732.66" y="839.5" font-family="'DejaVu Sans', sans-serif" font-size="32">D</text>
<text x="759.89" y="839.5" font-family="'DejaVu Serif', serif" font-size="31">I</text>
<text x="770.55" y="839.5" font-family="'DejaVu Sans', sans-serif" font-size="32">V</text>
<text x="732.96" y="889.7" font-family="'DejaVu Sans', sans-serif" font-size="32">M</text>
<text x="762.89" y="889.7" font-family="'DejaVu Serif', serif" font-size="31">I</text>
<text x="772.66" y="889.7" font-family="'DejaVu Sans', sans-serif" font-size="32">D</text>
<rect x="130.5" y="783.5" width="698.5" height="567.75" fill="none" stroke="#222" stroke-width="2.2"/>
<line x1="121.5" y1="1351.25" x2="130.5" y2="1351.25" stroke="#222" stroke-width="2.2"/>
<text transform="translate(0,1351.15) scale(1,1.07) translate(0,-1351.15)" x="110.7" y="1360.65" font-family="'DejaVu Sans', sans-serif" font-size="25.6" text-anchor="end">0.0</text>
<line x1="121.5" y1="1288.17" x2="130.5" y2="1288.17" stroke="#222" stroke-width="2.2"/>
<text transform="translate(0,1288.07) scale(1,1.07) translate(0,-1288.07)" x="110.7" y="1297.57" font-family="'DejaVu Sans', sans-serif" font-size="25.6" text-anchor="end">0.5</text>
<line x1="121.5" y1="1225.08" x2="130.5" y2="1225.08" stroke="#222" stroke-width="2.2"/>
<text transform="translate(0,1224.98) scale(1,1.07) translate(0,-1224.98)" x="110.7" y="1234.48" font-family="'DejaVu Sans', sans-serif" font-size="25.6" text-anchor="end">1.0</text>
<line x1="121.5" y1="1162" x2="130.5" y2="1162" stroke="#222" stroke-width="2.2"/>
<text transform="translate(0,1161.9) scale(1,1.07) translate(0,-1161.9)" x="110.7" y="1171.4" font-family="'DejaVu Sans', sans-serif" font-size="25.6" text-anchor="end">1.5</text>
<line x1="121.5" y1="1098.92" x2="130.5" y2="1098.92" stroke="#222" stroke-width="2.2"/>
<text transform="translate(0,1098.82) scale(1,1.07) translate(0,-1098.82)" x="110.7" y="1108.32" font-family="'DejaVu Sans', sans-serif" font-size="25.6" text-anchor="end">2.0</text>
<line x1="121.5" y1="1035.83" x2="130.5" y2="1035.83" stroke="#222" stroke-width="2.2"/>
<text transform="translate(0,1035.73) scale(1,1.07) translate(0,-1035.73)" x="110.7" y="1045.23" font-family="'DejaVu Sans', sans-serif" font-size="25.6" text-anchor="end">2.5</text>
<line x1="121.5" y1="972.75" x2="130.5" y2="972.75" stroke="#222" stroke-width="2.2"/>
<text transform="translate(0,972.65) scale(1,1.07) translate(0,-972.65)" x="110.7" y="982.15" font-family="'DejaVu Sans', sans-serif" font-size="25.6" text-anchor="end">3.0</text>
<line x1="121.5" y1="909.67" x2="130.5" y2="909.67" stroke="#222" stroke-width="2.2"/>
<text transform="translate(0,909.57) scale(1,1.07) translate(0,-909.57)" x="110.7" y="919.07" font-family="'DejaVu Sans', sans-serif" font-size="25.6" text-anchor="end">3.5</text>
<line x1="121.5" y1="846.58" x2="130.5" y2="846.58" stroke="#222" stroke-width="2.2"/>
<text transform="translate(0,846.48) scale(1,1.07) translate(0,-846.48)" x="110.7" y="855.98" font-family="'DejaVu Sans', sans-serif" font-size="25.6" text-anchor="end">4.0</text>
<line x1="121.5" y1="783.5" x2="130.5" y2="783.5" stroke="#222" stroke-width="2.2"/>
<text transform="translate(0,783.4) scale(1,1.07) translate(0,-783.4)" x="110.7" y="792.9" font-family="'DejaVu Sans', sans-serif" font-size="25.6" text-anchor="end">4.5</text>
<line x1="162.2" y1="1351.25" x2="162.2" y2="1360.25" stroke="#222" stroke-width="2.2"/>
<text transform="translate(0,1379.45) scale(1,1.07) translate(0,-1379.45)" x="161.2" y="1388.95" font-family="'DejaVu Sans', sans-serif" font-size="25.6" text-anchor="middle">8.175</text>
<line x1="260.25" y1="1351.25" x2="260.25" y2="1360.25" stroke="#222" stroke-width="2.2"/>
<text transform="translate(0,1379.45) scale(1,1.07) translate(0,-1379.45)" x="259.25" y="1388.95" font-family="'DejaVu Sans', sans-serif" font-size="25.6" text-anchor="middle">8.200</text>
<line x1="358.3" y1="1351.25" x2="358.3" y2="1360.25" stroke="#222" stroke-width="2.2"/>
<text transform="translate(0,1379.45) scale(1,1.07) translate(0,-1379.45)" x="357.3" y="1388.95" font-family="'DejaVu Sans', sans-serif" font-size="25.6" text-anchor="middle">8.225</text>
<line x1="456.35" y1="1351.25" x2="456.35" y2="1360.25" stroke="#222" stroke-width="2.2"/>
<text transform="translate(0,1379.45) scale(1,1.07) translate(0,-1379.45)" x="455.35" y="1388.95" font-family="'DejaVu Sans', sans-serif" font-size="25.6" text-anchor="middle">8.250</text>
<line x1="554.4" y1="1351.25" x2="554.4" y2="1360.25" stroke="#222" stroke-width="2.2"/>
<text transform="translate(0,1379.45) scale(1,1.07) translate(0,-1379.45)" x="553.4" y="1388.95" font-family="'DejaVu Sans', sans-serif" font-size="25.6" text-anchor="middle">8.275</text>
<line x1="652.45" y1="1351.25" x2="652.45" y2="1360.25" stroke="#222" stroke-width="2.2"/>
<text transform="translate(0,1379.45) scale(1,1.07) translate(0,-1379.45)" x="651.45" y="1388.95" font-family="'DejaVu Sans', sans-serif" font-size="25.6" text-anchor="middle">8.300</text>
<line x1="750.5" y1="1351.25" x2="750.5" y2="1360.25" stroke="#222" stroke-width="2.2"/>
<text transform="translate(0,1379.45) scale(1,1.07) translate(0,-1379.45)" x="749.5" y="1388.95" font-family="'DejaVu Sans', sans-serif" font-size="25.6" text-anchor="middle">8.325</text>
<text x="315.48" y="765.1" font-family="'DejaVu Sans', sans-serif" font-size="42">D</text>
<text x="356.29" y="772.1" font-family="'DejaVu Sans', sans-serif" font-size="27">⊥</text>
<text x="386.75" y="765.1" font-family="'DejaVu Sans', sans-serif" font-size="42">=</text>
<text x="423.23 452.21 466.66 494.83" y="765.1" font-family="'DejaVu Sans', sans-serif" font-size="42">1.00</text>
<text x="536.87" y="765.1" font-family="'DejaVu Sans', sans-serif" font-size="42" font-style="italic">m</text>
<text x="582.38" y="747.6" font-family="'DejaVu Sans', sans-serif" font-size="29">2</text>
<text x="606.68 619.63" y="765.1" font-family="'DejaVu Sans', sans-serif" font-size="42" font-style="italic">/s</text>
<text x="131.25 147.96 164.14 180.85" y="774.4" font-family="'DejaVu Sans', sans-serif" font-size="25">1e19</text>
<g transform="rotate(-90)"><text x="-1231.08" y="46" font-family="'DejaVu Sans', sans-serif" font-size="47">&lt;</text><text x="-1173.17" y="46.3" font-family="'DejaVu Sans', sans-serif" font-size="47">n</text><text x="-1141.41" y="54.9" font-family="'DejaVu Sans', sans-serif" font-size="33" font-style="italic">e</text><text x="-1101.08" y="46" font-family="'DejaVu Sans', sans-serif" font-size="47">&gt;</text><text x="-1042.57" y="49.2" font-family="'DejaVu Sans', sans-serif" font-size="52">[</text><text x="-1024.27" y="46.3" font-family="'DejaVu Sans', sans-serif" font-size="47">m</text><text x="-975.1" y="27" font-family="'DejaVu Sans', sans-serif" font-size="33">−</text><text x="-946.61" y="27" font-family="'DejaVu Sans', sans-serif" font-size="33">3</text><text x="-925.95" y="49.2" font-family="'DejaVu Sans', sans-serif" font-size="52">]</text></g>
<text x="418.13 449.05 463.2 480.56 523.91" y="1439.6" font-family="'DejaVu Sans', sans-serif" font-size="44.5">R [m]</text>
</g>
<g>
<clipPath id="clipd"><rect x="898.8" y="783.5" width="698.5" height="567.75"/></clipPath>
<g clip-path="url(#clipd)">
<path d="M898.8 864.54 L900.15 866.18 L901.71 867.44 L903.19 868.76 L904.61 870.14 L905.97 871.57 L907.27 873.06 L908.52 874.59 L909.71 876.16 L910.86 877.77 L911.97 879.42 L913.04 881.09 L914.07 882.8 L915.08 884.53 L916.06 886.28 L917.03 888.05 L917.97 889.84 L918.91 891.63 L919.84 893.43 L920.76 895.23 L921.68 897.03 L922.61 898.83 L923.55 900.61 L924.51 902.39 L925.48 904.15 L926.47 905.89 L927.49 907.61 L928.54 909.3 L929.62 910.96 L930.74 912.59 L931.9 914.19 L933.1 915.75 L934.33 917.29 L935.59 918.8 L936.88 920.28 L938.2 921.74 L939.54 923.18 L940.91 924.6 L942.3 925.99 L943.71 927.37 L945.14 928.74 L946.59 930.09 L948.05 931.43 L949.53 932.75 L951.01 934.07 L952.51 935.38 L954.01 936.69 L955.52 937.99 L957.03 939.28 L958.54 940.58 L960.06 941.88 L961.57 943.18 L963.07 944.48 L964.57 945.8 L966.07 947.11 L967.55 948.44 L969.02 949.78 L970.48 951.13 L971.93 952.49 L973.36 953.87 L974.78 955.25 L976.18 956.65 L977.58 958.06 L978.96 959.48 L980.32 960.91 L981.68 962.36 L983.02 963.81 L984.36 965.28 L985.68 966.76 L986.98 968.24 L988.28 969.74 L989.57 971.25 L990.84 972.76 L992.1 974.29 L993.36 975.83 L994.6 977.37 L995.83 978.92 L997.05 980.49 L998.26 982.06 L999.46 983.64 L1000.65 985.23 L1001.83 986.83 L1003 988.43 L1004.16 990.04 L1005.31 991.67 L1006.45 993.29 L1007.59 994.93 L1008.71 996.57 L1009.83 998.22 L1010.94 999.88 L1012.03 1001.54 L1013.12 1003.21 L1014.21 1004.89 L1015.28 1006.57 L1016.35 1008.26 L1017.41 1009.95 L1018.46 1011.65 L1019.5 1013.35 L1020.54 1015.06 L1021.57 1016.78 L1022.59 1018.49 L1023.61 1020.22 L1024.61 1021.95 L1025.62 1023.68 L1026.61 1025.41 L1027.6 1027.15 L1028.59 1028.9 L1029.57 1030.65 L1030.54 1032.4 L1031.51 1034.15 L1032.47 1035.91 L1033.43 1037.67 L1034.38 1039.43 L1035.32 1041.19 L1036.27 1042.96 L1037.21 1044.73 L1038.14 1046.5 L1039.08 1048.27 L1040.01 1050.04 L1040.94 1051.81 L1041.88 1053.58 L1042.81 1055.34 L1043.74 1057.11 L1044.68 1058.87 L1045.62 1060.64 L1046.57 1062.39 L1047.52 1064.15 L1048.47 1065.9 L1049.44 1067.64 L1050.4 1069.38 L1051.38 1071.12 L1052.37 1072.85 L1053.36 1074.57 L1054.36 1076.28 L1055.38 1077.99 L1056.4 1079.69 L1057.44 1081.38 L1058.49 1083.06 L1059.56 1084.74 L1060.64 1086.4 L1061.73 1088.05 L1062.84 1089.69 L1063.97 1091.33 L1065.12 1092.95 L1066.28 1094.55 L1067.46 1096.15 L1068.65 1097.74 L1069.86 1099.31 L1071.08 1100.88 L1072.32 1102.44 L1073.57 1103.98 L1074.83 1105.52 L1076.1 1107.06 L1077.38 1108.58 L1078.67 1110.1 L1079.97 1111.61 L1081.28 1113.12 L1082.59 1114.62 L1083.91 1116.11 L1085.24 1117.61 L1086.57 1119.09 L1087.91 1120.58 L1089.25 1122.06 L1090.59 1123.53 L1091.93 1125.01 L1093.27 1126.48 L1094.62 1127.96 L1095.96 1129.43 L1097.31 1130.9 L1098.65 1132.37 L1099.98 1133.84 L1101.32 1135.32 L1102.65 1136.79 L1103.97 1138.27 L1105.29 1139.75 L1106.6 1141.23 L1107.91 1142.72 L1109.2 1144.22 L1110.49 1145.72 L1111.76 1147.23 L1113.02 1148.75 L1114.26 1150.29 L1115.49 1151.83 L1116.71 1153.39 L1117.9 1154.97 L1119.08 1156.56 L1120.24 1158.17 L1121.38 1159.8 L1122.5 1161.44 L1123.6 1163.11 L1124.68 1164.79 L1125.75 1166.49 L1126.8 1168.2 L1127.84 1169.91 L1128.88 1171.64 L1129.9 1173.38 L1130.92 1175.12 L1131.94 1176.87 L1132.96 1178.62 L1133.98 1180.37 L1135 1182.13 L1136.03 1183.87 L1137.06 1185.62 L1138.11 1187.35 L1139.16 1189.08 L1140.23 1190.8 L1141.31 1192.5 L1142.41 1194.19 L1143.53 1195.86 L1144.66 1197.51 L1145.82 1199.14 L1147.01 1200.75 L1148.22 1202.32 L1149.45 1203.87 L1150.72 1205.39 L1152.02 1206.87 L1153.34 1208.32 L1154.7 1209.75 L1156.08 1211.14 L1157.49 1212.51 L1158.91 1213.86 L1160.36 1215.19 L1161.82 1216.51 L1163.3 1217.81 L1164.78 1219.1 L1166.28 1220.38 L1167.78 1221.66 L1169.29 1222.93 L1170.8 1224.21 L1172.31 1225.48 L1173.83 1226.75 L1175.35 1228.02 L1176.88 1229.29 L1178.4 1230.55 L1179.94 1231.82 L1181.47 1233.08 L1183.01 1234.33 L1184.55 1235.59 L1186.1 1236.84 L1187.65 1238.09 L1189.2 1239.34 L1190.76 1240.59 L1192.32 1241.83 L1193.89 1243.07 L1195.46 1244.3 L1197.03 1245.53 L1198.6 1246.76 L1200.18 1247.98 L1201.77 1249.2 L1203.36 1250.42 L1204.95 1251.63 L1206.54 1252.84 L1208.14 1254.04 L1209.75 1255.24 L1211.36 1256.43 L1212.97 1257.62 L1214.58 1258.8 L1216.2 1259.98 L1217.83 1261.16 L1219.46 1262.32 L1221.09 1263.49 L1222.72 1264.64 L1224.36 1265.79 L1226.01 1266.94 L1227.66 1268.08 L1229.31 1269.21 L1230.97 1270.34 L1232.63 1271.46 L1234.29 1272.57 L1235.96 1273.68 L1237.64 1274.78 L1239.32 1275.87 L1241 1276.95 L1242.69 1278.03 L1244.38 1279.1 L1246.07 1280.17 L1247.77 1281.22 L1249.48 1282.27 L1251.19 1283.31 L1252.9 1284.34 L1254.62 1285.37 L1256.34 1286.38 L1258.07 1287.39 L1259.8 1288.39 L1261.54 1289.38 L1263.28 1290.36 L1265.02 1291.33 L1266.77 1292.3 L1268.53 1293.25 L1270.29 1294.2 L1272.05 1295.14 L1273.82 1296.06 L1275.59 1296.98 L1277.36 1297.89 L1279.15 1298.8 L1280.93 1299.69 L1282.72 1300.57 L1284.51 1301.45 L1286.31 1302.31 L1288.11 1303.17 L1289.91 1304.01 L1291.72 1304.85 L1293.54 1305.68 L1295.35 1306.5 L1297.17 1307.31 L1299 1308.12 L1300.83 1308.91 L1302.66 1309.69 L1304.49 1310.47 L1306.33 1311.23 L1308.18 1311.99 L1310.02 1312.74 L1311.87 1313.48 L1313.72 1314.21 L1315.58 1314.93 L1317.44 1315.64 L1319.3 1316.34 L1321.17 1317.03 L1323.04 1317.71 L1324.91 1318.39 L1326.79 1319.05 L1328.67 1319.71 L1330.55 1320.36 L1332.43 1320.99 L1334.32 1321.62 L1336.21 1322.24 L1338.11 1322.85 L1341.9 1324.04 L1345.71 1325.19 L1349.53 1326.31 L1353.35 1327.39 L1357.19 1328.43 L1361.04 1329.43 L1364.9 1330.4 L1368.76 1331.33 L1372.64 1332.22 L1376.52 1333.07 L1380.41 1333.89 L1384.31 1334.67 L1388.22 1335.42 L1392.13 1336.13 L1396.05 1336.81 L1399.98 1337.46 L1403.91 1338.08 L1407.86 1338.67 L1411.8 1339.23 L1415.75 1339.76 L1419.71 1340.26 L1423.67 1340.73 L1427.64 1341.18 L1431.61 1341.61 L1435.59 1342.01 L1439.57 1342.39 L1443.55 1342.74 L1447.54 1343.08 L1451.53 1343.39 L1455.52 1343.69 L1459.52 1343.96 L1463.52 1344.22 L1467.52 1344.46 L1471.52 1344.68 L1475.53 1344.89 L1479.53 1345.09 L1483.54 1345.27 L1487.55 1345.44 L1491.56 1345.6 L1495.56 1345.74 L1499.57 1345.88 L1503.58 1346.01 L1507.59 1346.13 L1511.59 1346.24 L1515.6 1346.34 L1519.6 1346.44 L1523.61 1346.54 L1527.61 1346.63 L1531.6 1346.72 L1535.6 1346.81 L1539.59 1346.89 L1543.58 1346.98 L1547.57 1347.07 L1551.55 1347.15 L1555.53 1347.24 L1559.51 1347.34 L1563.48 1347.44 L1567.45 1347.54 L1571.41 1347.65 L1575.36 1347.76 L1579.32 1347.89 L1583.26 1348.02 L1587.2 1348.16 L1591.13 1348.31 L1595.06 1348.47 L1597.3 1348.14" fill="none" stroke="#000" stroke-width="4.8" stroke-linejoin="round" stroke-linecap="square"/>
<path d="M898.8 868.55 L900.29 870.15 L901.7 871.51 L903.05 872.92 L904.35 874.39 L905.6 875.9 L906.8 877.45 L907.96 879.04 L909.07 880.67 L910.15 882.33 L911.19 884.02 L912.21 885.74 L913.2 887.48 L914.17 889.24 L915.12 891.02 L916.05 892.81 L916.98 894.61 L917.9 896.42 L918.81 898.24 L919.72 900.05 L920.64 901.86 L921.57 903.66 L922.5 905.45 L923.46 907.23 L924.43 909 L925.42 910.75 L926.44 912.47 L927.49 914.17 L928.57 915.83 L929.69 917.47 L930.84 919.07 L932.03 920.65 L933.25 922.2 L934.5 923.72 L935.77 925.22 L937.08 926.69 L938.41 928.15 L939.76 929.58 L941.13 930.99 L942.52 932.39 L943.93 933.77 L945.36 935.14 L946.8 936.5 L948.25 937.85 L949.72 939.18 L951.19 940.52 L952.67 941.84 L954.15 943.16 L955.64 944.48 L957.13 945.79 L958.62 947.11 L960.11 948.43 L961.59 949.75 L963.07 951.08 L964.55 952.42 L966.01 953.76 L967.47 955.11 L968.92 956.47 L970.36 957.84 L971.79 959.21 L973.21 960.59 L974.63 961.98 L976.03 963.38 L977.43 964.79 L978.82 966.2 L980.21 967.62 L981.59 969.05 L982.96 970.48 L984.32 971.93 L985.67 973.37 L987.02 974.83 L988.36 976.29 L989.7 977.76 L991.03 979.24 L992.35 980.72 L993.67 982.21 L994.97 983.71 L996.28 985.21 L997.58 986.72 L998.87 988.23 L1000.15 989.75 L1001.43 991.28 L1002.71 992.81 L1003.97 994.35 L1005.24 995.89 L1006.49 997.44 L1007.75 999 L1009 1000.56 L1010.24 1002.12 L1011.48 1003.69 L1012.71 1005.27 L1013.94 1006.85 L1015.16 1008.43 L1016.38 1010.02 L1017.6 1011.62 L1018.81 1013.21 L1020.02 1014.81 L1021.22 1016.42 L1022.42 1018.03 L1023.62 1019.64 L1024.81 1021.26 L1026 1022.88 L1027.18 1024.5 L1028.36 1026.13 L1029.54 1027.76 L1030.72 1029.39 L1031.89 1031.03 L1033.06 1032.67 L1034.23 1034.31 L1035.4 1035.95 L1036.56 1037.6 L1037.72 1039.24 L1038.88 1040.89 L1040.04 1042.54 L1041.2 1044.19 L1042.36 1045.84 L1043.52 1047.48 L1044.69 1049.12 L1045.86 1050.76 L1047.03 1052.39 L1048.21 1054.02 L1049.39 1055.64 L1050.59 1057.25 L1051.79 1058.86 L1053 1060.45 L1054.22 1062.04 L1055.45 1063.61 L1056.69 1065.17 L1057.95 1066.72 L1059.22 1068.25 L1060.5 1069.77 L1061.8 1071.27 L1063.11 1072.76 L1064.44 1074.23 L1065.79 1075.68 L1067.16 1077.11 L1068.54 1078.53 L1069.95 1079.92 L1071.38 1081.29 L1072.82 1082.64 L1074.28 1083.98 L1075.76 1085.3 L1077.25 1086.6 L1078.76 1087.89 L1080.28 1089.17 L1081.81 1090.43 L1083.35 1091.69 L1084.9 1092.93 L1086.45 1094.17 L1088.02 1095.4 L1089.59 1096.62 L1091.16 1097.84 L1092.74 1099.05 L1094.32 1100.27 L1095.9 1101.48 L1097.49 1102.69 L1099.07 1103.9 L1100.65 1105.11 L1102.22 1106.33 L1103.8 1107.55 L1105.36 1108.77 L1106.93 1110 L1108.48 1111.24 L1110.02 1112.49 L1111.56 1113.75 L1113.08 1115.02 L1114.6 1116.3 L1116.1 1117.59 L1117.6 1118.89 L1119.08 1120.2 L1120.57 1121.52 L1122.04 1122.85 L1123.51 1124.19 L1124.98 1125.53 L1126.44 1126.88 L1127.9 1128.24 L1129.35 1129.6 L1130.81 1130.97 L1132.26 1132.35 L1133.72 1133.73 L1135.17 1135.11 L1136.63 1136.5 L1138.09 1137.88 L1139.56 1139.25 L1141.04 1140.62 L1142.52 1141.97 L1144.01 1143.32 L1145.52 1144.64 L1147.03 1145.95 L1148.56 1147.24 L1150.11 1148.5 L1151.67 1149.74 L1153.25 1150.94 L1154.85 1152.12 L1156.46 1153.26 L1158.09 1154.38 L1159.74 1155.48 L1161.39 1156.55 L1163.06 1157.6 L1164.74 1158.64 L1166.43 1159.67 L1168.12 1160.68 L1169.82 1161.68 L1171.52 1162.68 L1173.22 1163.67 L1174.93 1164.66 L1176.63 1165.65 L1178.34 1166.64 L1180.04 1167.63 L1181.74 1168.62 L1183.45 1169.61 L1185.15 1170.6 L1186.85 1171.6 L1188.55 1172.6 L1190.25 1173.6 L1191.95 1174.61 L1193.65 1175.62 L1195.35 1176.64 L1197.04 1177.66 L1198.73 1178.69 L1200.43 1179.72 L1202.12 1180.76 L1203.8 1181.81 L1205.49 1182.86 L1207.17 1183.92 L1208.86 1184.99 L1210.54 1186.06 L1212.22 1187.13 L1213.9 1188.21 L1215.58 1189.29 L1217.25 1190.38 L1218.93 1191.47 L1220.6 1192.57 L1222.27 1193.67 L1223.95 1194.77 L1225.62 1195.88 L1227.29 1196.99 L1228.96 1198.1 L1230.63 1199.22 L1232.29 1200.34 L1233.96 1201.46 L1235.63 1202.58 L1237.3 1203.71 L1238.96 1204.84 L1240.63 1205.97 L1242.29 1207.1 L1243.96 1208.23 L1245.62 1209.37 L1247.28 1210.5 L1248.95 1211.64 L1250.61 1212.78 L1252.28 1213.91 L1253.94 1215.05 L1255.61 1216.19 L1257.27 1217.33 L1258.93 1218.47 L1260.6 1219.6 L1262.26 1220.74 L1263.93 1221.88 L1265.59 1223.01 L1267.26 1224.15 L1268.93 1225.28 L1270.6 1226.41 L1272.26 1227.54 L1273.93 1228.67 L1275.6 1229.79 L1277.27 1230.92 L1278.94 1232.04 L1280.61 1233.16 L1282.29 1234.27 L1283.96 1235.39 L1285.64 1236.5 L1287.31 1237.6 L1288.99 1238.71 L1290.67 1239.81 L1292.35 1240.9 L1294.03 1241.99 L1295.71 1243.08 L1297.4 1244.16 L1299.08 1245.24 L1300.77 1246.32 L1302.46 1247.39 L1304.15 1248.45 L1305.84 1249.52 L1307.54 1250.57 L1309.23 1251.63 L1310.93 1252.68 L1312.63 1253.72 L1314.34 1254.76 L1316.04 1255.79 L1317.75 1256.82 L1319.45 1257.85 L1321.17 1258.87 L1322.88 1259.88 L1324.59 1260.89 L1326.31 1261.9 L1328.03 1262.9 L1329.76 1263.89 L1331.48 1264.88 L1333.21 1265.86 L1334.94 1266.84 L1336.68 1267.82 L1338.41 1268.78 L1340.15 1269.74 L1341.89 1270.7 L1343.64 1271.65 L1345.39 1272.6 L1347.14 1273.53 L1348.9 1274.47 L1350.65 1275.39 L1352.41 1276.31 L1354.18 1277.23 L1355.95 1278.14 L1357.72 1279.04 L1359.49 1279.94 L1361.27 1280.82 L1363.05 1281.71 L1364.84 1282.58 L1366.63 1283.45 L1368.42 1284.32 L1370.22 1285.18 L1372.02 1286.03 L1373.83 1286.87 L1375.64 1287.71 L1377.45 1288.54 L1379.27 1289.36 L1381.09 1290.17 L1382.91 1290.98 L1384.74 1291.78 L1386.58 1292.58 L1388.42 1293.36 L1390.26 1294.14 L1392.11 1294.92 L1393.96 1295.68 L1395.81 1296.43 L1397.67 1297.18 L1399.53 1297.92 L1401.4 1298.64 L1403.27 1299.36 L1405.14 1300.07 L1407.02 1300.77 L1408.9 1301.46 L1410.78 1302.14 L1412.67 1302.81 L1414.56 1303.47 L1416.46 1304.12 L1418.35 1304.75 L1420.25 1305.38 L1422.16 1305.99 L1424.06 1306.59 L1427.88 1307.76 L1431.71 1308.87 L1435.55 1309.94 L1439.4 1310.95 L1443.26 1311.91 L1447.13 1312.82 L1451 1313.7 L1454.89 1314.54 L1458.78 1315.37 L1462.67 1316.17 L1466.57 1316.96 L1470.48 1317.75 L1474.39 1318.54 L1478.3 1319.35 L1482.21 1320.17 L1486.13 1321.01 L1490.05 1321.88 L1493.98 1322.79 L1497.9 1323.74 L1501.82 1324.72 L1505.74 1325.73 L1509.67 1326.76 L1513.59 1327.81 L1517.5 1328.88 L1521.42 1329.96 L1525.33 1331.05 L1529.24 1332.14 L1533.14 1333.23 L1537.04 1334.31 L1540.93 1335.38 L1544.82 1336.43 L1548.7 1337.47 L1552.57 1338.47 L1556.44 1339.45 L1560.29 1340.39 L1564.14 1341.28 L1567.98 1342.13 L1571.8 1342.92 L1575.62 1343.65 L1579.42 1344.32 L1583.22 1344.92 L1587 1345.44 L1590.76 1345.88 L1594.52 1346.23 L1597.3 1346.5" fill="none" stroke="#f00" stroke-width="4.8" stroke-linejoin="round" stroke-linecap="square"/>
<line x1="899.3" y1="1295.6" x2="1597.3" y2="1295.6" stroke="#000" stroke-width="3.7" stroke-dasharray="14.4 6.51"/>
<line x1="1577.9" y1="783.5" x2="1577.9" y2="1351.25" stroke="#000" stroke-width="3.6"/>
</g>
<rect x="1391.55" y="800.45" width="188.75" height="110.75" rx="5.5" ry="5.5" fill="#fff" fill-opacity="0.8" stroke="#d0d0d0" stroke-width="2.2"/>
<line x1="1404.3" y1="828.4" x2="1473.3" y2="828.4" stroke="#000" stroke-width="4.8" stroke-linecap="square"/>
<line x1="1404.3" y1="878.6" x2="1473.3" y2="878.6" stroke="#f00" stroke-width="4.8" stroke-linecap="square"/>
<text x="1500.96" y="839.5" font-family="'DejaVu Sans', sans-serif" font-size="32">D</text>
<text x="1528.19" y="839.5" font-family="'DejaVu Serif', serif" font-size="31">I</text>
<text x="1538.85" y="839.5" font-family="'DejaVu Sans', sans-serif" font-size="32">V</text>
<text x="1501.26" y="889.7" font-family="'DejaVu Sans', sans-serif" font-size="32">M</text>
<text x="1531.19" y="889.7" font-family="'DejaVu Serif', serif" font-size="31">I</text>
<text x="1540.96" y="889.7" font-family="'DejaVu Sans', sans-serif" font-size="32">D</text>
<rect x="898.8" y="783.5" width="698.5" height="567.75" fill="none" stroke="#222" stroke-width="2.2"/>
<line x1="889.8" y1="1351.25" x2="898.8" y2="1351.25" stroke="#222" stroke-width="2.2"/>
<line x1="889.8" y1="1288.17" x2="898.8" y2="1288.17" stroke="#222" stroke-width="2.2"/>
<line x1="889.8" y1="1225.08" x2="898.8" y2="1225.08" stroke="#222" stroke-width="2.2"/>
<line x1="889.8" y1="1162" x2="898.8" y2="1162" stroke="#222" stroke-width="2.2"/>
<line x1="889.8" y1="1098.92" x2="898.8" y2="1098.92" stroke="#222" stroke-width="2.2"/>
<line x1="889.8" y1="1035.83" x2="898.8" y2="1035.83" stroke="#222" stroke-width="2.2"/>
<line x1="889.8" y1="972.75" x2="898.8" y2="972.75" stroke="#222" stroke-width="2.2"/>
<line x1="889.8" y1="909.67" x2="898.8" y2="909.67" stroke="#222" stroke-width="2.2"/>
<line x1="889.8" y1="846.58" x2="898.8" y2="846.58" stroke="#222" stroke-width="2.2"/>
<line x1="889.8" y1="783.5" x2="898.8" y2="783.5" stroke="#222" stroke-width="2.2"/>
<line x1="930.5" y1="1351.25" x2="930.5" y2="1360.25" stroke="#222" stroke-width="2.2"/>
<text transform="translate(0,1379.45) scale(1,1.07) translate(0,-1379.45)" x="929.5" y="1388.95" font-family="'DejaVu Sans', sans-serif" font-size="25.6" text-anchor="middle">8.175</text>
<line x1="1028.55" y1="1351.25" x2="1028.55" y2="1360.25" stroke="#222" stroke-width="2.2"/>
<text transform="translate(0,1379.45) scale(1,1.07) translate(0,-1379.45)" x="1027.55" y="1388.95" font-family="'DejaVu Sans', sans-serif" font-size="25.6" text-anchor="middle">8.200</text>
<line x1="1126.6" y1="1351.25" x2="1126.6" y2="1360.25" stroke="#222" stroke-width="2.2"/>
<text transform="translate(0,1379.45) scale(1,1.07) translate(0,-1379.45)" x="1125.6" y="1388.95" font-family="'DejaVu Sans', sans-serif" font-size="25.6" text-anchor="middle">8.225</text>
<line x1="1224.65" y1="1351.25" x2="1224.65" y2="1360.25" stroke="#222" stroke-width="2.2"/>
<text transform="translate(0,1379.45) scale(1,1.07) translate(0,-1379.45)" x="1223.65" y="1388.95" font-family="'DejaVu Sans', sans-serif" font-size="25.6" text-anchor="middle">8.250</text>
<line x1="1322.7" y1="1351.25" x2="1322.7" y2="1360.25" stroke="#222" stroke-width="2.2"/>
<text transform="translate(0,1379.45) scale(1,1.07) translate(0,-1379.45)" x="1321.7" y="1388.95" font-family="'DejaVu Sans', sans-serif" font-size="25.6" text-anchor="middle">8.275</text>
<line x1="1420.75" y1="1351.25" x2="1420.75" y2="1360.25" stroke="#222" stroke-width="2.2"/>
<text transform="translate(0,1379.45) scale(1,1.07) translate(0,-1379.45)" x="1419.75" y="1388.95" font-family="'DejaVu Sans', sans-serif" font-size="25.6" text-anchor="middle">8.300</text>
<line x1="1518.8" y1="1351.25" x2="1518.8" y2="1360.25" stroke="#222" stroke-width="2.2"/>
<text transform="translate(0,1379.45) scale(1,1.07) translate(0,-1379.45)" x="1517.8" y="1388.95" font-family="'DejaVu Sans', sans-serif" font-size="25.6" text-anchor="middle">8.325</text>
<text x="1083.78" y="765.1" font-family="'DejaVu Sans', sans-serif" font-size="42">D</text>
<text x="1124.59" y="772.1" font-family="'DejaVu Sans', sans-serif" font-size="27">⊥</text>
<text x="1155.05" y="765.1" font-family="'DejaVu Sans', sans-serif" font-size="42">=</text>
<text x="1191.53 1220.51 1234.96 1263.13" y="765.1" font-family="'DejaVu Sans', sans-serif" font-size="42">1.25</text>
<text x="1305.17" y="765.1" font-family="'DejaVu Sans', sans-serif" font-size="42" font-style="italic">m</text>
<text x="1350.68" y="747.6" font-family="'DejaVu Sans', sans-serif" font-size="29">2</text>
<text x="1374.98 1387.93" y="765.1" font-family="'DejaVu Sans', sans-serif" font-size="42" font-style="italic">/s</text>
<text x="1186.43 1217.35 1231.5 1248.86 1292.21" y="1439.6" font-family="'DejaVu Sans', sans-serif" font-size="44.5">R [m]</text>
</g>
<text x="10.76 31.37 70.74" y="46.5" font-family="'Liberation Sans', sans-serif" font-size="62">(a)</text>
<text x="891.16 912.85 950.84" y="46.7" font-family="'Liberation Sans', sans-serif" font-size="62">(b)</text>
<text x="10.51 31.07 67.74" y="754.5" font-family="'Liberation Sans', sans-serif" font-size="62">(c)</text>
<text x="882.36 903 942.14" y="754.5" font-family="'Liberation Sans', sans-serif" font-size="62">(d)</text>
<text x="731.89 761.32 783.38 793.37" y="325" font-family="'DejaVu Sans', sans-serif" font-size="36">wall</text>
<text x="534.77 554.85 577.86 592.42 605.89 628.13 641.29 654.45 666.41 689.46 711.83 734.84 753.91 764.47 779.03" y="565" font-family="'DejaVu Sans', sans-serif" font-size="35">cut-off density</text>
</svg>
</body></html>
